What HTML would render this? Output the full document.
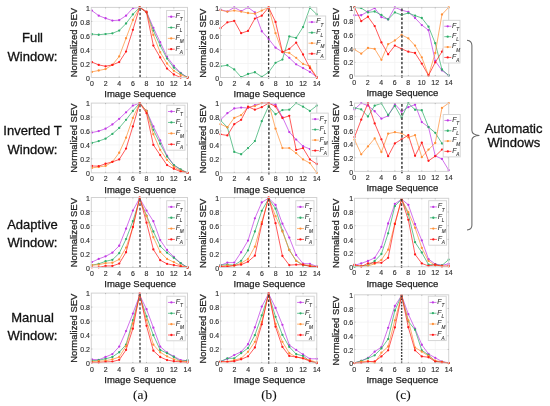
<!DOCTYPE html><html><head><meta charset="utf-8"><style>html,body{margin:0;padding:0;background:#fff;}svg{display:block;}text{font-family:"Liberation Sans",Arial,sans-serif;}</style></head><body>
<svg width="550" height="406" viewBox="0 0 550 406">
<rect width="550" height="406" fill="#fff"/>
<g>
<path d="M105.56 7.40V77.50M119.21 7.40V77.50M132.87 7.40V77.50M146.53 7.40V77.50M160.19 7.40V77.50M173.84 7.40V77.50M91.30 63.48H187.50M91.30 49.46H187.50M91.30 35.44H187.50M91.30 21.42H187.50" stroke="#f3f3f3" stroke-width="0.8" fill="none"/>
<g>
<polyline points="91.90,10.55 98.73,15.67 105.56,18.27 112.39,20.58 119.21,20.16 126.04,15.67 132.87,8.10 139.70,7.40 146.53,11.61 153.36,27.80 160.19,42.17 167.01,56.75 173.84,65.79 180.67,72.87 187.50,77.50" fill="none" stroke="#c03ae4" stroke-width="0.72" stroke-linejoin="round"/>
<g fill="#c03ae4"><circle cx="91.90" cy="10.55" r="1.15"/><circle cx="98.73" cy="15.67" r="1.15"/><circle cx="105.56" cy="18.27" r="1.15"/><circle cx="112.39" cy="20.58" r="1.15"/><circle cx="119.21" cy="20.16" r="1.15"/><circle cx="126.04" cy="15.67" r="1.15"/><circle cx="132.87" cy="8.10" r="1.15"/><circle cx="139.70" cy="7.40" r="1.15"/><circle cx="146.53" cy="11.61" r="1.15"/><circle cx="153.36" cy="27.80" r="1.15"/><circle cx="160.19" cy="42.17" r="1.15"/><circle cx="167.01" cy="56.75" r="1.15"/><circle cx="173.84" cy="65.79" r="1.15"/><circle cx="180.67" cy="72.87" r="1.15"/><circle cx="187.50" cy="77.50" r="1.15"/></g>
<polyline points="91.90,34.11 98.73,34.74 105.56,34.04 112.39,33.34 119.21,30.53 126.04,23.52 132.87,14.41 139.70,7.40 146.53,12.31 153.36,30.53 160.19,45.60 167.01,58.57 173.84,67.69 180.67,73.29 187.50,77.50" fill="none" stroke="#2fae6a" stroke-width="0.72" stroke-linejoin="round"/>
<g fill="#2fae6a"><circle cx="91.90" cy="34.11" r="1.15"/><circle cx="98.73" cy="34.74" r="1.15"/><circle cx="105.56" cy="34.04" r="1.15"/><circle cx="112.39" cy="33.34" r="1.15"/><circle cx="119.21" cy="30.53" r="1.15"/><circle cx="126.04" cy="23.52" r="1.15"/><circle cx="132.87" cy="14.41" r="1.15"/><circle cx="139.70" cy="7.40" r="1.15"/><circle cx="146.53" cy="12.31" r="1.15"/><circle cx="153.36" cy="30.53" r="1.15"/><circle cx="160.19" cy="45.60" r="1.15"/><circle cx="167.01" cy="58.57" r="1.15"/><circle cx="173.84" cy="67.69" r="1.15"/><circle cx="180.67" cy="73.29" r="1.15"/><circle cx="187.50" cy="77.50" r="1.15"/></g>
<polyline points="91.90,71.89 98.73,70.49 105.56,69.09 112.39,64.88 119.21,56.47 126.04,38.24 132.87,20.02 139.70,7.40 146.53,11.61 153.36,34.95 160.19,52.26 167.01,63.48 173.84,70.84 180.67,74.91 187.50,77.50" fill="none" stroke="#ff9038" stroke-width="0.72" stroke-linejoin="round"/>
<g fill="#ff9038"><circle cx="91.90" cy="71.89" r="1.15"/><circle cx="98.73" cy="70.49" r="1.15"/><circle cx="105.56" cy="69.09" r="1.15"/><circle cx="112.39" cy="64.88" r="1.15"/><circle cx="119.21" cy="56.47" r="1.15"/><circle cx="126.04" cy="38.24" r="1.15"/><circle cx="132.87" cy="20.02" r="1.15"/><circle cx="139.70" cy="7.40" r="1.15"/><circle cx="146.53" cy="11.61" r="1.15"/><circle cx="153.36" cy="34.95" r="1.15"/><circle cx="160.19" cy="52.26" r="1.15"/><circle cx="167.01" cy="63.48" r="1.15"/><circle cx="173.84" cy="70.84" r="1.15"/><circle cx="180.67" cy="74.91" r="1.15"/><circle cx="187.50" cy="77.50" r="1.15"/></g>
<polyline points="91.90,62.08 98.73,64.88 105.56,66.28 112.39,64.88 119.21,62.08 126.04,51.56 132.87,29.83 139.70,7.40 146.53,12.31 153.36,45.60 160.19,57.45 167.01,68.53 173.84,74.49 180.67,77.50 187.50,77.50" fill="none" stroke="#ff1a1a" stroke-width="0.72" stroke-linejoin="round"/>
<g fill="#ff1a1a"><circle cx="91.90" cy="62.08" r="1.15"/><circle cx="98.73" cy="64.88" r="1.15"/><circle cx="105.56" cy="66.28" r="1.15"/><circle cx="112.39" cy="64.88" r="1.15"/><circle cx="119.21" cy="62.08" r="1.15"/><circle cx="126.04" cy="51.56" r="1.15"/><circle cx="132.87" cy="29.83" r="1.15"/><circle cx="139.70" cy="7.40" r="1.15"/><circle cx="146.53" cy="12.31" r="1.15"/><circle cx="153.36" cy="45.60" r="1.15"/><circle cx="160.19" cy="57.45" r="1.15"/><circle cx="167.01" cy="68.53" r="1.15"/><circle cx="173.84" cy="74.49" r="1.15"/><circle cx="180.67" cy="77.50" r="1.15"/><circle cx="187.50" cy="77.50" r="1.15"/></g>
</g>
<line x1="140.10" y1="77.35" x2="140.10" y2="7.40" stroke="#5c5c5c" stroke-width="1.6" stroke-dasharray="2.65 1.78"/>
<rect x="91.30" y="7.40" width="96.20" height="70.10" fill="none" stroke="#d2d2d2" stroke-width="1"/>
<path d="M105.56 77.50v-1M105.56 7.40v1M119.21 77.50v-1M119.21 7.40v1M132.87 77.50v-1M132.87 7.40v1M146.53 77.50v-1M146.53 7.40v1M160.19 77.50v-1M160.19 7.40v1M173.84 77.50v-1M173.84 7.40v1M91.30 63.48h1M187.50 63.48h-1M91.30 49.46h1M187.50 49.46h-1M91.30 35.44h1M187.50 35.44h-1M91.30 21.42h1M187.50 21.42h-1" stroke="#aaaaaa" stroke-width="0.8" fill="none"/>
<g font-size="8.1" fill="#2c2c2c" stroke="#2c2c2c" stroke-width="0.15"><text transform="translate(91.90 86.10) scale(0.86 1)" text-anchor="middle">0</text><text transform="translate(105.56 86.10) scale(0.86 1)" text-anchor="middle">2</text><text transform="translate(119.21 86.10) scale(0.86 1)" text-anchor="middle">4</text><text transform="translate(132.87 86.10) scale(0.86 1)" text-anchor="middle">6</text><text transform="translate(146.53 86.10) scale(0.86 1)" text-anchor="middle">8</text><text transform="translate(160.19 86.10) scale(0.86 1)" text-anchor="middle">10</text><text transform="translate(173.84 86.10) scale(0.86 1)" text-anchor="middle">12</text><text transform="translate(187.50 86.10) scale(0.86 1)" text-anchor="middle">14</text><text transform="translate(90.00 80.60) scale(0.86 1)" text-anchor="end">0</text><text transform="translate(90.00 66.58) scale(0.86 1)" text-anchor="end">0.2</text><text transform="translate(90.00 52.56) scale(0.86 1)" text-anchor="end">0.4</text><text transform="translate(90.00 38.54) scale(0.86 1)" text-anchor="end">0.6</text><text transform="translate(90.00 24.52) scale(0.86 1)" text-anchor="end">0.8</text><text transform="translate(90.00 10.50) scale(0.86 1)" text-anchor="end">1</text></g>
<text transform="translate(140.20 97.40) scale(1.0 1)" text-anchor="middle" font-size="9.5" fill="#222222" stroke="#222222" stroke-width="0.25">Image Sequence</text>
<text transform="translate(76.50,42.65) rotate(-90)" text-anchor="middle" font-size="9.45" fill="#222222" stroke="#222222" stroke-width="0.25">Normalized SEV</text>
<rect x="166.60" y="10.50" width="18.00" height="44.50" fill="#fff" stroke="#d2d2d2" stroke-width="0.9"/>
<line x1="167.80" y1="16.73" x2="174.80" y2="16.73" stroke="#c03ae4" stroke-width="0.7"/>
<circle cx="171.20" cy="16.73" r="1.15" fill="#c03ae4"/>
<text x="175.60" y="18.13" font-size="6.9" font-style="italic" fill="#3a3a3a" stroke="#3a3a3a" stroke-width="0.12">F<tspan font-size="4.7" dx="-0.1" dy="3.3">T</tspan></text>
<line x1="167.80" y1="27.56" x2="174.80" y2="27.56" stroke="#2fae6a" stroke-width="0.7"/>
<circle cx="171.20" cy="27.56" r="1.15" fill="#2fae6a"/>
<text x="175.60" y="28.96" font-size="6.9" font-style="italic" fill="#3a3a3a" stroke="#3a3a3a" stroke-width="0.12">F<tspan font-size="4.7" dx="-0.1" dy="3.3">L</tspan></text>
<line x1="167.80" y1="38.38" x2="174.80" y2="38.38" stroke="#ff9038" stroke-width="0.7"/>
<circle cx="171.20" cy="38.38" r="1.15" fill="#ff9038"/>
<text x="175.60" y="39.78" font-size="6.9" font-style="italic" fill="#3a3a3a" stroke="#3a3a3a" stroke-width="0.12">F<tspan font-size="4.7" dx="-0.1" dy="3.3">M</tspan></text>
<line x1="167.80" y1="49.21" x2="174.80" y2="49.21" stroke="#ff1a1a" stroke-width="0.7"/>
<circle cx="171.20" cy="49.21" r="1.15" fill="#ff1a1a"/>
<text x="175.60" y="50.61" font-size="6.9" font-style="italic" fill="#3a3a3a" stroke="#3a3a3a" stroke-width="0.12">F<tspan font-size="4.7" dx="-0.1" dy="3.3">A</tspan></text>
<path d="M234.26 7.40V77.50M248.01 7.40V77.50M261.77 7.40V77.50M275.53 7.40V77.50M289.29 7.40V77.50M303.04 7.40V77.50M220.50 63.48H316.80M220.50 49.46H316.80M220.50 35.44H316.80M220.50 21.42H316.80" stroke="#f3f3f3" stroke-width="0.8" fill="none"/>
<g>
<polyline points="220.50,9.64 227.38,11.54 234.26,7.40 241.14,11.19 248.01,7.40 254.89,12.45 261.77,31.23 268.65,38.95 275.53,47.71 282.41,51.98 289.29,57.87 296.16,64.32 303.04,68.04 309.92,71.89 316.80,77.08" fill="none" stroke="#c03ae4" stroke-width="0.72" stroke-linejoin="round"/>
<g fill="#c03ae4"><circle cx="220.50" cy="9.64" r="1.15"/><circle cx="227.38" cy="11.54" r="1.15"/><circle cx="234.26" cy="7.40" r="1.15"/><circle cx="241.14" cy="11.19" r="1.15"/><circle cx="248.01" cy="7.40" r="1.15"/><circle cx="254.89" cy="12.45" r="1.15"/><circle cx="261.77" cy="31.23" r="1.15"/><circle cx="268.65" cy="38.95" r="1.15"/><circle cx="275.53" cy="47.71" r="1.15"/><circle cx="282.41" cy="51.98" r="1.15"/><circle cx="289.29" cy="57.87" r="1.15"/><circle cx="296.16" cy="64.32" r="1.15"/><circle cx="303.04" cy="68.04" r="1.15"/><circle cx="309.92" cy="71.89" r="1.15"/><circle cx="316.80" cy="77.08" r="1.15"/></g>
<polyline points="220.50,66.28 227.38,65.23 234.26,69.44 241.14,77.15 248.01,74.00 254.89,72.24 261.77,76.80 268.65,72.24 275.53,62.78 282.41,59.55 289.29,36.42 296.16,37.89 303.04,27.03 309.92,7.75 316.80,14.41" fill="none" stroke="#2fae6a" stroke-width="0.72" stroke-linejoin="round"/>
<g fill="#2fae6a"><circle cx="220.50" cy="66.28" r="1.15"/><circle cx="227.38" cy="65.23" r="1.15"/><circle cx="234.26" cy="69.44" r="1.15"/><circle cx="241.14" cy="77.15" r="1.15"/><circle cx="248.01" cy="74.00" r="1.15"/><circle cx="254.89" cy="72.24" r="1.15"/><circle cx="261.77" cy="76.80" r="1.15"/><circle cx="268.65" cy="72.24" r="1.15"/><circle cx="275.53" cy="62.78" r="1.15"/><circle cx="282.41" cy="59.55" r="1.15"/><circle cx="289.29" cy="36.42" r="1.15"/><circle cx="296.16" cy="37.89" r="1.15"/><circle cx="303.04" cy="27.03" r="1.15"/><circle cx="309.92" cy="7.75" r="1.15"/><circle cx="316.80" cy="14.41" r="1.15"/></g>
<polyline points="220.50,10.20 227.38,11.61 234.26,10.55 241.14,11.61 248.01,13.01 254.89,13.71 261.77,10.55 268.65,7.40 275.53,33.20 282.41,51.98 289.29,52.97 296.16,57.87 303.04,63.90 309.92,66.28 316.80,77.50" fill="none" stroke="#ff9038" stroke-width="0.72" stroke-linejoin="round"/>
<g fill="#ff9038"><circle cx="220.50" cy="10.20" r="1.15"/><circle cx="227.38" cy="11.61" r="1.15"/><circle cx="234.26" cy="10.55" r="1.15"/><circle cx="241.14" cy="11.61" r="1.15"/><circle cx="248.01" cy="13.01" r="1.15"/><circle cx="254.89" cy="13.71" r="1.15"/><circle cx="261.77" cy="10.55" r="1.15"/><circle cx="268.65" cy="7.40" r="1.15"/><circle cx="275.53" cy="33.20" r="1.15"/><circle cx="282.41" cy="51.98" r="1.15"/><circle cx="289.29" cy="52.97" r="1.15"/><circle cx="296.16" cy="57.87" r="1.15"/><circle cx="303.04" cy="63.90" r="1.15"/><circle cx="309.92" cy="66.28" r="1.15"/><circle cx="316.80" cy="77.50" r="1.15"/></g>
<polyline points="220.50,28.15 227.38,22.33 234.26,20.93 241.14,33.20 248.01,30.95 254.89,18.62 261.77,15.67 268.65,7.40 275.53,21.91 282.41,51.98 289.29,48.90 296.16,42.66 303.04,54.51 309.92,68.04 316.80,77.50" fill="none" stroke="#ff1a1a" stroke-width="0.72" stroke-linejoin="round"/>
<g fill="#ff1a1a"><circle cx="220.50" cy="28.15" r="1.15"/><circle cx="227.38" cy="22.33" r="1.15"/><circle cx="234.26" cy="20.93" r="1.15"/><circle cx="241.14" cy="33.20" r="1.15"/><circle cx="248.01" cy="30.95" r="1.15"/><circle cx="254.89" cy="18.62" r="1.15"/><circle cx="261.77" cy="15.67" r="1.15"/><circle cx="268.65" cy="7.40" r="1.15"/><circle cx="275.53" cy="21.91" r="1.15"/><circle cx="282.41" cy="51.98" r="1.15"/><circle cx="289.29" cy="48.90" r="1.15"/><circle cx="296.16" cy="42.66" r="1.15"/><circle cx="303.04" cy="54.51" r="1.15"/><circle cx="309.92" cy="68.04" r="1.15"/><circle cx="316.80" cy="77.50" r="1.15"/></g>
</g>
<line x1="268.60" y1="78.40" x2="268.60" y2="7.40" stroke="#3a3a3a" stroke-width="1.3" stroke-dasharray="2.65 1.78"/>
<rect x="220.50" y="7.40" width="96.30" height="70.10" fill="none" stroke="#d2d2d2" stroke-width="1"/>
<path d="M234.26 77.50v-1M234.26 7.40v1M248.01 77.50v-1M248.01 7.40v1M261.77 77.50v-1M261.77 7.40v1M275.53 77.50v-1M275.53 7.40v1M289.29 77.50v-1M289.29 7.40v1M303.04 77.50v-1M303.04 7.40v1M220.50 63.48h1M316.80 63.48h-1M220.50 49.46h1M316.80 49.46h-1M220.50 35.44h1M316.80 35.44h-1M220.50 21.42h1M316.80 21.42h-1" stroke="#aaaaaa" stroke-width="0.8" fill="none"/>
<g font-size="8.1" fill="#2c2c2c" stroke="#2c2c2c" stroke-width="0.15"><text transform="translate(220.60 86.10) scale(0.86 1)" text-anchor="middle">0</text><text transform="translate(234.34 86.10) scale(0.86 1)" text-anchor="middle">2</text><text transform="translate(248.09 86.10) scale(0.86 1)" text-anchor="middle">4</text><text transform="translate(261.83 86.10) scale(0.86 1)" text-anchor="middle">6</text><text transform="translate(275.57 86.10) scale(0.86 1)" text-anchor="middle">8</text><text transform="translate(289.31 86.10) scale(0.86 1)" text-anchor="middle">10</text><text transform="translate(303.06 86.10) scale(0.86 1)" text-anchor="middle">12</text><text transform="translate(316.80 86.10) scale(0.86 1)" text-anchor="middle">14</text><text transform="translate(219.20 80.60) scale(0.86 1)" text-anchor="end">0</text><text transform="translate(219.20 66.58) scale(0.86 1)" text-anchor="end">0.2</text><text transform="translate(219.20 52.56) scale(0.86 1)" text-anchor="end">0.4</text><text transform="translate(219.20 38.54) scale(0.86 1)" text-anchor="end">0.6</text><text transform="translate(219.20 24.52) scale(0.86 1)" text-anchor="end">0.8</text><text transform="translate(219.20 10.50) scale(0.86 1)" text-anchor="end">1</text></g>
<text transform="translate(269.45 97.40) scale(1.0 1)" text-anchor="middle" font-size="9.5" fill="#222222" stroke="#222222" stroke-width="0.25">Image Sequence</text>
<text transform="translate(205.80,43.25) rotate(-90)" text-anchor="middle" font-size="9.45" fill="#222222" stroke="#222222" stroke-width="0.25">Normalized SEV</text>
<rect x="307.30" y="16.00" width="18.40" height="43.40" fill="#fff" stroke="#d2d2d2" stroke-width="0.9"/>
<line x1="308.50" y1="22.08" x2="315.50" y2="22.08" stroke="#c03ae4" stroke-width="0.7"/>
<circle cx="311.90" cy="22.08" r="1.15" fill="#c03ae4"/>
<text x="316.30" y="23.48" font-size="6.9" font-style="italic" fill="#3a3a3a" stroke="#3a3a3a" stroke-width="0.12">F<tspan font-size="4.7" dx="-0.1" dy="3.3">T</tspan></text>
<line x1="308.50" y1="32.64" x2="315.50" y2="32.64" stroke="#2fae6a" stroke-width="0.7"/>
<circle cx="311.90" cy="32.64" r="1.15" fill="#2fae6a"/>
<text x="316.30" y="34.04" font-size="6.9" font-style="italic" fill="#3a3a3a" stroke="#3a3a3a" stroke-width="0.12">F<tspan font-size="4.7" dx="-0.1" dy="3.3">L</tspan></text>
<line x1="308.50" y1="43.19" x2="315.50" y2="43.19" stroke="#ff9038" stroke-width="0.7"/>
<circle cx="311.90" cy="43.19" r="1.15" fill="#ff9038"/>
<text x="316.30" y="44.59" font-size="6.9" font-style="italic" fill="#3a3a3a" stroke="#3a3a3a" stroke-width="0.12">F<tspan font-size="4.7" dx="-0.1" dy="3.3">M</tspan></text>
<line x1="308.50" y1="53.75" x2="315.50" y2="53.75" stroke="#ff1a1a" stroke-width="0.7"/>
<circle cx="311.90" cy="53.75" r="1.15" fill="#ff1a1a"/>
<text x="316.30" y="55.15" font-size="6.9" font-style="italic" fill="#3a3a3a" stroke="#3a3a3a" stroke-width="0.12">F<tspan font-size="4.7" dx="-0.1" dy="3.3">A</tspan></text>
<path d="M367.96 7.40V76.10M381.41 7.40V76.10M394.87 7.40V76.10M408.33 7.40V76.10M421.79 7.40V76.10M435.24 7.40V76.10M354.50 62.36H448.70M354.50 48.62H448.70M354.50 34.88H448.70M354.50 21.14H448.70" stroke="#f3f3f3" stroke-width="0.8" fill="none"/>
<g>
<polyline points="354.50,15.23 361.23,15.23 367.96,11.52 374.69,8.09 381.41,17.16 388.14,19.42 394.87,7.40 401.60,10.15 408.33,11.93 415.06,17.98 421.79,25.06 428.51,30.21 435.24,60.99 441.97,70.47 448.70,75.48" fill="none" stroke="#c03ae4" stroke-width="0.72" stroke-linejoin="round"/>
<g fill="#c03ae4"><circle cx="354.50" cy="15.23" r="1.15"/><circle cx="361.23" cy="15.23" r="1.15"/><circle cx="367.96" cy="11.52" r="1.15"/><circle cx="374.69" cy="8.09" r="1.15"/><circle cx="381.41" cy="17.16" r="1.15"/><circle cx="388.14" cy="19.42" r="1.15"/><circle cx="394.87" cy="7.40" r="1.15"/><circle cx="401.60" cy="10.15" r="1.15"/><circle cx="408.33" cy="11.93" r="1.15"/><circle cx="415.06" cy="17.98" r="1.15"/><circle cx="421.79" cy="25.06" r="1.15"/><circle cx="428.51" cy="30.21" r="1.15"/><circle cx="435.24" cy="60.99" r="1.15"/><circle cx="441.97" cy="70.47" r="1.15"/><circle cx="448.70" cy="75.48" r="1.15"/></g>
<polyline points="354.50,7.40 361.23,8.09 367.96,12.42 374.69,11.52 381.41,14.96 388.14,19.42 394.87,12.42 401.60,14.96 408.33,13.03 415.06,15.64 421.79,17.98 428.51,26.64 435.24,43.26 441.97,69.50 448.70,75.48" fill="none" stroke="#2fae6a" stroke-width="0.72" stroke-linejoin="round"/>
<g fill="#2fae6a"><circle cx="354.50" cy="7.40" r="1.15"/><circle cx="361.23" cy="8.09" r="1.15"/><circle cx="367.96" cy="12.42" r="1.15"/><circle cx="374.69" cy="11.52" r="1.15"/><circle cx="381.41" cy="14.96" r="1.15"/><circle cx="388.14" cy="19.42" r="1.15"/><circle cx="394.87" cy="12.42" r="1.15"/><circle cx="401.60" cy="14.96" r="1.15"/><circle cx="408.33" cy="13.03" r="1.15"/><circle cx="415.06" cy="15.64" r="1.15"/><circle cx="421.79" cy="17.98" r="1.15"/><circle cx="428.51" cy="26.64" r="1.15"/><circle cx="435.24" cy="43.26" r="1.15"/><circle cx="441.97" cy="69.50" r="1.15"/><circle cx="448.70" cy="75.48" r="1.15"/></g>
<polyline points="354.50,49.51 361.23,53.64 367.96,48.00 374.69,48.89 381.41,59.82 388.14,44.22 394.87,40.51 401.60,34.88 408.33,38.31 415.06,45.60 421.79,57.34 428.51,75.48 435.24,53.02 441.97,14.48 448.70,7.40" fill="none" stroke="#ff9038" stroke-width="0.72" stroke-linejoin="round"/>
<g fill="#ff9038"><circle cx="354.50" cy="49.51" r="1.15"/><circle cx="361.23" cy="53.64" r="1.15"/><circle cx="367.96" cy="48.00" r="1.15"/><circle cx="374.69" cy="48.89" r="1.15"/><circle cx="381.41" cy="59.82" r="1.15"/><circle cx="388.14" cy="44.22" r="1.15"/><circle cx="394.87" cy="40.51" r="1.15"/><circle cx="401.60" cy="34.88" r="1.15"/><circle cx="408.33" cy="38.31" r="1.15"/><circle cx="415.06" cy="45.60" r="1.15"/><circle cx="421.79" cy="57.34" r="1.15"/><circle cx="428.51" cy="75.48" r="1.15"/><circle cx="435.24" cy="53.02" r="1.15"/><circle cx="441.97" cy="14.48" r="1.15"/><circle cx="448.70" cy="7.40" r="1.15"/></g>
<polyline points="354.50,7.40 361.23,21.14 367.96,16.74 374.69,26.09 381.41,42.44 388.14,54.25 394.87,45.60 401.60,48.89 408.33,51.71 415.06,53.02 421.79,63.53 428.51,75.48 435.24,62.36 441.97,51.71 448.70,34.88" fill="none" stroke="#ff1a1a" stroke-width="0.72" stroke-linejoin="round"/>
<g fill="#ff1a1a"><circle cx="354.50" cy="7.40" r="1.15"/><circle cx="361.23" cy="21.14" r="1.15"/><circle cx="367.96" cy="16.74" r="1.15"/><circle cx="374.69" cy="26.09" r="1.15"/><circle cx="381.41" cy="42.44" r="1.15"/><circle cx="388.14" cy="54.25" r="1.15"/><circle cx="394.87" cy="45.60" r="1.15"/><circle cx="401.60" cy="48.89" r="1.15"/><circle cx="408.33" cy="51.71" r="1.15"/><circle cx="415.06" cy="53.02" r="1.15"/><circle cx="421.79" cy="63.53" r="1.15"/><circle cx="428.51" cy="75.48" r="1.15"/><circle cx="435.24" cy="62.36" r="1.15"/><circle cx="441.97" cy="51.71" r="1.15"/><circle cx="448.70" cy="34.88" r="1.15"/></g>
</g>
<line x1="401.90" y1="77.65" x2="401.90" y2="7.40" stroke="#5c5c5c" stroke-width="1.8" stroke-dasharray="2.65 1.78"/>
<rect x="354.50" y="7.40" width="94.20" height="68.70" fill="none" stroke="#d2d2d2" stroke-width="1"/>
<path d="M367.96 76.10v-1M367.96 7.40v1M381.41 76.10v-1M381.41 7.40v1M394.87 76.10v-1M394.87 7.40v1M408.33 76.10v-1M408.33 7.40v1M421.79 76.10v-1M421.79 7.40v1M435.24 76.10v-1M435.24 7.40v1M354.50 62.36h1M448.70 62.36h-1M354.50 48.62h1M448.70 48.62h-1M354.50 34.88h1M448.70 34.88h-1M354.50 21.14h1M448.70 21.14h-1" stroke="#aaaaaa" stroke-width="0.8" fill="none"/>
<g font-size="8.1" fill="#2c2c2c" stroke="#2c2c2c" stroke-width="0.15"><text transform="translate(354.30 84.70) scale(0.86 1)" text-anchor="middle">0</text><text transform="translate(367.79 84.70) scale(0.86 1)" text-anchor="middle">2</text><text transform="translate(381.27 84.70) scale(0.86 1)" text-anchor="middle">4</text><text transform="translate(394.76 84.70) scale(0.86 1)" text-anchor="middle">6</text><text transform="translate(408.24 84.70) scale(0.86 1)" text-anchor="middle">8</text><text transform="translate(421.73 84.70) scale(0.86 1)" text-anchor="middle">10</text><text transform="translate(435.21 84.70) scale(0.86 1)" text-anchor="middle">12</text><text transform="translate(448.70 84.70) scale(0.86 1)" text-anchor="middle">14</text><text transform="translate(353.20 79.20) scale(0.86 1)" text-anchor="end">0</text><text transform="translate(353.20 65.46) scale(0.86 1)" text-anchor="end">0.2</text><text transform="translate(353.20 51.72) scale(0.86 1)" text-anchor="end">0.4</text><text transform="translate(353.20 37.98) scale(0.86 1)" text-anchor="end">0.6</text><text transform="translate(353.20 24.24) scale(0.86 1)" text-anchor="end">0.8</text><text transform="translate(353.20 10.50) scale(0.86 1)" text-anchor="end">1</text></g>
<text transform="translate(402.40 96.00) scale(1.0 1)" text-anchor="middle" font-size="9.5" fill="#222222" stroke="#222222" stroke-width="0.25">Image Sequence</text>
<text transform="translate(339.40,42.65) rotate(-90)" text-anchor="middle" font-size="9.45" fill="#222222" stroke="#222222" stroke-width="0.25">Normalized SEV</text>
<rect x="443.10" y="20.30" width="16.90" height="42.70" fill="#fff" stroke="#d2d2d2" stroke-width="0.9"/>
<line x1="444.30" y1="26.28" x2="451.30" y2="26.28" stroke="#c03ae4" stroke-width="0.7"/>
<circle cx="447.70" cy="26.28" r="1.15" fill="#c03ae4"/>
<text x="452.10" y="27.68" font-size="6.9" font-style="italic" fill="#3a3a3a" stroke="#3a3a3a" stroke-width="0.12">F<tspan font-size="4.7" dx="-0.1" dy="3.3">T</tspan></text>
<line x1="444.30" y1="36.67" x2="451.30" y2="36.67" stroke="#2fae6a" stroke-width="0.7"/>
<circle cx="447.70" cy="36.67" r="1.15" fill="#2fae6a"/>
<text x="452.10" y="38.07" font-size="6.9" font-style="italic" fill="#3a3a3a" stroke="#3a3a3a" stroke-width="0.12">F<tspan font-size="4.7" dx="-0.1" dy="3.3">L</tspan></text>
<line x1="444.30" y1="47.06" x2="451.30" y2="47.06" stroke="#ff9038" stroke-width="0.7"/>
<circle cx="447.70" cy="47.06" r="1.15" fill="#ff9038"/>
<text x="452.10" y="48.46" font-size="6.9" font-style="italic" fill="#3a3a3a" stroke="#3a3a3a" stroke-width="0.12">F<tspan font-size="4.7" dx="-0.1" dy="3.3">M</tspan></text>
<line x1="444.30" y1="57.44" x2="451.30" y2="57.44" stroke="#ff1a1a" stroke-width="0.7"/>
<circle cx="447.70" cy="57.44" r="1.15" fill="#ff1a1a"/>
<text x="452.10" y="58.84" font-size="6.9" font-style="italic" fill="#3a3a3a" stroke="#3a3a3a" stroke-width="0.12">F<tspan font-size="4.7" dx="-0.1" dy="3.3">A</tspan></text>
<path d="M105.56 103.10V172.80M119.21 103.10V172.80M132.87 103.10V172.80M146.53 103.10V172.80M160.19 103.10V172.80M173.84 103.10V172.80M91.30 158.86H187.50M91.30 144.92H187.50M91.30 130.98H187.50M91.30 117.04H187.50" stroke="#f3f3f3" stroke-width="0.8" fill="none"/>
<g>
<polyline points="91.90,132.58 98.73,131.12 105.56,128.68 112.39,124.43 119.21,118.78 126.04,112.30 132.87,105.61 139.70,103.10 146.53,110.98 153.36,126.38 160.19,140.46 167.01,155.58 173.84,165.06 180.67,169.80 187.50,172.80" fill="none" stroke="#c03ae4" stroke-width="0.72" stroke-linejoin="round"/>
<g fill="#c03ae4"><circle cx="91.90" cy="132.58" r="1.15"/><circle cx="98.73" cy="131.12" r="1.15"/><circle cx="105.56" cy="128.68" r="1.15"/><circle cx="112.39" cy="124.43" r="1.15"/><circle cx="119.21" cy="118.78" r="1.15"/><circle cx="126.04" cy="112.30" r="1.15"/><circle cx="132.87" cy="105.61" r="1.15"/><circle cx="139.70" cy="103.10" r="1.15"/><circle cx="146.53" cy="110.98" r="1.15"/><circle cx="153.36" cy="126.38" r="1.15"/><circle cx="160.19" cy="140.46" r="1.15"/><circle cx="167.01" cy="155.58" r="1.15"/><circle cx="173.84" cy="165.06" r="1.15"/><circle cx="180.67" cy="169.80" r="1.15"/><circle cx="187.50" cy="172.80" r="1.15"/></g>
<polyline points="91.90,142.97 98.73,141.09 105.56,138.65 112.39,133.91 119.21,127.91 126.04,119.83 132.87,110.98 139.70,103.10 146.53,110.98 153.36,129.80 160.19,143.67 167.01,156.56 173.84,165.06 180.67,169.31 187.50,172.80" fill="none" stroke="#2fae6a" stroke-width="0.72" stroke-linejoin="round"/>
<g fill="#2fae6a"><circle cx="91.90" cy="142.97" r="1.15"/><circle cx="98.73" cy="141.09" r="1.15"/><circle cx="105.56" cy="138.65" r="1.15"/><circle cx="112.39" cy="133.91" r="1.15"/><circle cx="119.21" cy="127.91" r="1.15"/><circle cx="126.04" cy="119.83" r="1.15"/><circle cx="132.87" cy="110.98" r="1.15"/><circle cx="139.70" cy="103.10" r="1.15"/><circle cx="146.53" cy="110.98" r="1.15"/><circle cx="153.36" cy="129.80" r="1.15"/><circle cx="160.19" cy="143.67" r="1.15"/><circle cx="167.01" cy="156.56" r="1.15"/><circle cx="173.84" cy="165.06" r="1.15"/><circle cx="180.67" cy="169.31" r="1.15"/><circle cx="187.50" cy="172.80" r="1.15"/></g>
<polyline points="91.90,167.92 98.73,166.95 105.56,165.97 112.39,161.86 119.21,152.73 126.04,137.67 132.87,117.88 139.70,103.10 146.53,110.98 153.36,134.26 160.19,149.94 167.01,159.91 173.84,166.95 180.67,170.71 187.50,172.80" fill="none" stroke="#ff9038" stroke-width="0.72" stroke-linejoin="round"/>
<g fill="#ff9038"><circle cx="91.90" cy="167.92" r="1.15"/><circle cx="98.73" cy="166.95" r="1.15"/><circle cx="105.56" cy="165.97" r="1.15"/><circle cx="112.39" cy="161.86" r="1.15"/><circle cx="119.21" cy="152.73" r="1.15"/><circle cx="126.04" cy="137.67" r="1.15"/><circle cx="132.87" cy="117.88" r="1.15"/><circle cx="139.70" cy="103.10" r="1.15"/><circle cx="146.53" cy="110.98" r="1.15"/><circle cx="153.36" cy="134.26" r="1.15"/><circle cx="160.19" cy="149.94" r="1.15"/><circle cx="167.01" cy="159.91" r="1.15"/><circle cx="173.84" cy="166.95" r="1.15"/><circle cx="180.67" cy="170.71" r="1.15"/><circle cx="187.50" cy="172.80" r="1.15"/></g>
<polyline points="91.90,165.97 98.73,166.18 105.56,163.74 112.39,161.86 119.21,159.42 126.04,148.61 132.87,126.38 139.70,103.10 146.53,113.21 153.36,144.92 160.19,155.10 167.01,165.06 173.84,168.76 180.67,171.62 187.50,172.80" fill="none" stroke="#ff1a1a" stroke-width="0.72" stroke-linejoin="round"/>
<g fill="#ff1a1a"><circle cx="91.90" cy="165.97" r="1.15"/><circle cx="98.73" cy="166.18" r="1.15"/><circle cx="105.56" cy="163.74" r="1.15"/><circle cx="112.39" cy="161.86" r="1.15"/><circle cx="119.21" cy="159.42" r="1.15"/><circle cx="126.04" cy="148.61" r="1.15"/><circle cx="132.87" cy="126.38" r="1.15"/><circle cx="139.70" cy="103.10" r="1.15"/><circle cx="146.53" cy="113.21" r="1.15"/><circle cx="153.36" cy="144.92" r="1.15"/><circle cx="160.19" cy="155.10" r="1.15"/><circle cx="167.01" cy="165.06" r="1.15"/><circle cx="173.84" cy="168.76" r="1.15"/><circle cx="180.67" cy="171.62" r="1.15"/><circle cx="187.50" cy="172.80" r="1.15"/></g>
</g>
<line x1="140.00" y1="173.70" x2="140.00" y2="103.10" stroke="#5c5c5c" stroke-width="1.6" stroke-dasharray="2.65 1.78"/>
<rect x="91.30" y="103.10" width="96.20" height="69.70" fill="none" stroke="#d2d2d2" stroke-width="1"/>
<path d="M105.56 172.80v-1M105.56 103.10v1M119.21 172.80v-1M119.21 103.10v1M132.87 172.80v-1M132.87 103.10v1M146.53 172.80v-1M146.53 103.10v1M160.19 172.80v-1M160.19 103.10v1M173.84 172.80v-1M173.84 103.10v1M91.30 158.86h1M187.50 158.86h-1M91.30 144.92h1M187.50 144.92h-1M91.30 130.98h1M187.50 130.98h-1M91.30 117.04h1M187.50 117.04h-1" stroke="#aaaaaa" stroke-width="0.8" fill="none"/>
<g font-size="8.1" fill="#2c2c2c" stroke="#2c2c2c" stroke-width="0.15"><text transform="translate(91.90 181.40) scale(0.86 1)" text-anchor="middle">0</text><text transform="translate(105.56 181.40) scale(0.86 1)" text-anchor="middle">2</text><text transform="translate(119.21 181.40) scale(0.86 1)" text-anchor="middle">4</text><text transform="translate(132.87 181.40) scale(0.86 1)" text-anchor="middle">6</text><text transform="translate(146.53 181.40) scale(0.86 1)" text-anchor="middle">8</text><text transform="translate(160.19 181.40) scale(0.86 1)" text-anchor="middle">10</text><text transform="translate(173.84 181.40) scale(0.86 1)" text-anchor="middle">12</text><text transform="translate(187.50 181.40) scale(0.86 1)" text-anchor="middle">14</text><text transform="translate(90.00 175.90) scale(0.86 1)" text-anchor="end">0</text><text transform="translate(90.00 161.96) scale(0.86 1)" text-anchor="end">0.2</text><text transform="translate(90.00 148.02) scale(0.86 1)" text-anchor="end">0.4</text><text transform="translate(90.00 134.08) scale(0.86 1)" text-anchor="end">0.6</text><text transform="translate(90.00 120.14) scale(0.86 1)" text-anchor="end">0.8</text><text transform="translate(90.00 106.20) scale(0.86 1)" text-anchor="end">1</text></g>
<text transform="translate(140.20 192.70) scale(1.0 1)" text-anchor="middle" font-size="9.5" fill="#222222" stroke="#222222" stroke-width="0.25">Image Sequence</text>
<text transform="translate(76.50,138.15) rotate(-90)" text-anchor="middle" font-size="9.45" fill="#222222" stroke="#222222" stroke-width="0.25">Normalized SEV</text>
<rect x="166.80" y="105.20" width="18.20" height="45.00" fill="#fff" stroke="#d2d2d2" stroke-width="0.9"/>
<line x1="168.00" y1="111.50" x2="175.00" y2="111.50" stroke="#c03ae4" stroke-width="0.7"/>
<circle cx="171.40" cy="111.50" r="1.15" fill="#c03ae4"/>
<text x="175.80" y="112.90" font-size="6.9" font-style="italic" fill="#3a3a3a" stroke="#3a3a3a" stroke-width="0.12">F<tspan font-size="4.7" dx="-0.1" dy="3.3">T</tspan></text>
<line x1="168.00" y1="122.45" x2="175.00" y2="122.45" stroke="#2fae6a" stroke-width="0.7"/>
<circle cx="171.40" cy="122.45" r="1.15" fill="#2fae6a"/>
<text x="175.80" y="123.85" font-size="6.9" font-style="italic" fill="#3a3a3a" stroke="#3a3a3a" stroke-width="0.12">F<tspan font-size="4.7" dx="-0.1" dy="3.3">L</tspan></text>
<line x1="168.00" y1="133.40" x2="175.00" y2="133.40" stroke="#ff9038" stroke-width="0.7"/>
<circle cx="171.40" cy="133.40" r="1.15" fill="#ff9038"/>
<text x="175.80" y="134.80" font-size="6.9" font-style="italic" fill="#3a3a3a" stroke="#3a3a3a" stroke-width="0.12">F<tspan font-size="4.7" dx="-0.1" dy="3.3">M</tspan></text>
<line x1="168.00" y1="144.35" x2="175.00" y2="144.35" stroke="#ff1a1a" stroke-width="0.7"/>
<circle cx="171.40" cy="144.35" r="1.15" fill="#ff1a1a"/>
<text x="175.80" y="145.75" font-size="6.9" font-style="italic" fill="#3a3a3a" stroke="#3a3a3a" stroke-width="0.12">F<tspan font-size="4.7" dx="-0.1" dy="3.3">A</tspan></text>
<path d="M234.26 103.10V172.80M248.01 103.10V172.80M261.77 103.10V172.80M275.53 103.10V172.80M289.29 103.10V172.80M303.04 103.10V172.80M220.50 158.86H316.80M220.50 144.92H316.80M220.50 130.98H316.80M220.50 117.04H316.80" stroke="#f3f3f3" stroke-width="0.8" fill="none"/>
<g>
<polyline points="220.50,119.83 227.38,113.21 234.26,108.47 241.14,107.56 248.01,107.98 254.89,105.19 261.77,103.10 268.65,103.10 275.53,104.49 282.41,117.04 289.29,132.03 296.16,139.55 303.04,146.24 309.92,149.03 316.80,151.89" fill="none" stroke="#c03ae4" stroke-width="0.72" stroke-linejoin="round"/>
<g fill="#c03ae4"><circle cx="220.50" cy="119.83" r="1.15"/><circle cx="227.38" cy="113.21" r="1.15"/><circle cx="234.26" cy="108.47" r="1.15"/><circle cx="241.14" cy="107.56" r="1.15"/><circle cx="248.01" cy="107.98" r="1.15"/><circle cx="254.89" cy="105.19" r="1.15"/><circle cx="261.77" cy="103.10" r="1.15"/><circle cx="268.65" cy="103.10" r="1.15"/><circle cx="275.53" cy="104.49" r="1.15"/><circle cx="282.41" cy="117.04" r="1.15"/><circle cx="289.29" cy="132.03" r="1.15"/><circle cx="296.16" cy="139.55" r="1.15"/><circle cx="303.04" cy="146.24" r="1.15"/><circle cx="309.92" cy="149.03" r="1.15"/><circle cx="316.80" cy="151.89" r="1.15"/></g>
<polyline points="220.50,120.32 227.38,127.29 234.26,151.89 241.14,154.26 248.01,148.06 254.89,141.09 261.77,121.22 268.65,106.24 275.53,114.25 282.41,110.07 289.29,109.72 296.16,103.10 303.04,106.65 309.92,110.98 316.80,105.61" fill="none" stroke="#2fae6a" stroke-width="0.72" stroke-linejoin="round"/>
<g fill="#2fae6a"><circle cx="220.50" cy="120.32" r="1.15"/><circle cx="227.38" cy="127.29" r="1.15"/><circle cx="234.26" cy="151.89" r="1.15"/><circle cx="241.14" cy="154.26" r="1.15"/><circle cx="248.01" cy="148.06" r="1.15"/><circle cx="254.89" cy="141.09" r="1.15"/><circle cx="261.77" cy="121.22" r="1.15"/><circle cx="268.65" cy="106.24" r="1.15"/><circle cx="275.53" cy="114.25" r="1.15"/><circle cx="282.41" cy="110.07" r="1.15"/><circle cx="289.29" cy="109.72" r="1.15"/><circle cx="296.16" cy="103.10" r="1.15"/><circle cx="303.04" cy="106.65" r="1.15"/><circle cx="309.92" cy="110.98" r="1.15"/><circle cx="316.80" cy="105.61" r="1.15"/></g>
<polyline points="220.50,124.15 227.38,127.29 234.26,117.88 241.14,115.09 248.01,107.14 254.89,106.03 261.77,103.10 268.65,103.10 275.53,128.68 282.41,148.06 289.29,148.06 296.16,153.14 303.04,159.42 309.92,163.11 316.80,172.80" fill="none" stroke="#ff9038" stroke-width="0.72" stroke-linejoin="round"/>
<g fill="#ff9038"><circle cx="220.50" cy="124.15" r="1.15"/><circle cx="227.38" cy="127.29" r="1.15"/><circle cx="234.26" cy="117.88" r="1.15"/><circle cx="241.14" cy="115.09" r="1.15"/><circle cx="248.01" cy="107.14" r="1.15"/><circle cx="254.89" cy="106.03" r="1.15"/><circle cx="261.77" cy="103.10" r="1.15"/><circle cx="268.65" cy="103.10" r="1.15"/><circle cx="275.53" cy="128.68" r="1.15"/><circle cx="282.41" cy="148.06" r="1.15"/><circle cx="289.29" cy="148.06" r="1.15"/><circle cx="296.16" cy="153.14" r="1.15"/><circle cx="303.04" cy="159.42" r="1.15"/><circle cx="309.92" cy="163.11" r="1.15"/><circle cx="316.80" cy="172.80" r="1.15"/></g>
<polyline points="220.50,134.33 227.38,135.44 234.26,124.15 241.14,119.83 248.01,106.65 254.89,109.72 261.77,107.14 268.65,103.10 275.53,106.45 282.41,118.09 289.29,115.79 296.16,149.94 303.04,148.06 309.92,159.42 316.80,164.02" fill="none" stroke="#ff1a1a" stroke-width="0.72" stroke-linejoin="round"/>
<g fill="#ff1a1a"><circle cx="220.50" cy="134.33" r="1.15"/><circle cx="227.38" cy="135.44" r="1.15"/><circle cx="234.26" cy="124.15" r="1.15"/><circle cx="241.14" cy="119.83" r="1.15"/><circle cx="248.01" cy="106.65" r="1.15"/><circle cx="254.89" cy="109.72" r="1.15"/><circle cx="261.77" cy="107.14" r="1.15"/><circle cx="268.65" cy="103.10" r="1.15"/><circle cx="275.53" cy="106.45" r="1.15"/><circle cx="282.41" cy="118.09" r="1.15"/><circle cx="289.29" cy="115.79" r="1.15"/><circle cx="296.16" cy="149.94" r="1.15"/><circle cx="303.04" cy="148.06" r="1.15"/><circle cx="309.92" cy="159.42" r="1.15"/><circle cx="316.80" cy="164.02" r="1.15"/></g>
</g>
<line x1="268.90" y1="174.50" x2="268.90" y2="103.10" stroke="#3a3a3a" stroke-width="1.4" stroke-dasharray="2.65 1.78"/>
<rect x="220.50" y="103.10" width="96.30" height="69.70" fill="none" stroke="#d2d2d2" stroke-width="1"/>
<path d="M234.26 172.80v-1M234.26 103.10v1M248.01 172.80v-1M248.01 103.10v1M261.77 172.80v-1M261.77 103.10v1M275.53 172.80v-1M275.53 103.10v1M289.29 172.80v-1M289.29 103.10v1M303.04 172.80v-1M303.04 103.10v1M220.50 158.86h1M316.80 158.86h-1M220.50 144.92h1M316.80 144.92h-1M220.50 130.98h1M316.80 130.98h-1M220.50 117.04h1M316.80 117.04h-1" stroke="#aaaaaa" stroke-width="0.8" fill="none"/>
<g font-size="8.1" fill="#2c2c2c" stroke="#2c2c2c" stroke-width="0.15"><text transform="translate(220.60 181.40) scale(0.86 1)" text-anchor="middle">0</text><text transform="translate(234.34 181.40) scale(0.86 1)" text-anchor="middle">2</text><text transform="translate(248.09 181.40) scale(0.86 1)" text-anchor="middle">4</text><text transform="translate(261.83 181.40) scale(0.86 1)" text-anchor="middle">6</text><text transform="translate(275.57 181.40) scale(0.86 1)" text-anchor="middle">8</text><text transform="translate(289.31 181.40) scale(0.86 1)" text-anchor="middle">10</text><text transform="translate(303.06 181.40) scale(0.86 1)" text-anchor="middle">12</text><text transform="translate(316.80 181.40) scale(0.86 1)" text-anchor="middle">14</text><text transform="translate(219.20 175.90) scale(0.86 1)" text-anchor="end">0</text><text transform="translate(219.20 161.96) scale(0.86 1)" text-anchor="end">0.2</text><text transform="translate(219.20 148.02) scale(0.86 1)" text-anchor="end">0.4</text><text transform="translate(219.20 134.08) scale(0.86 1)" text-anchor="end">0.6</text><text transform="translate(219.20 120.14) scale(0.86 1)" text-anchor="end">0.8</text><text transform="translate(219.20 106.20) scale(0.86 1)" text-anchor="end">1</text></g>
<text transform="translate(269.45 192.70) scale(1.0 1)" text-anchor="middle" font-size="9.5" fill="#222222" stroke="#222222" stroke-width="0.25">Image Sequence</text>
<text transform="translate(205.80,138.75) rotate(-90)" text-anchor="middle" font-size="9.45" fill="#222222" stroke="#222222" stroke-width="0.25">Normalized SEV</text>
<rect x="310.60" y="113.10" width="17.60" height="43.10" fill="#fff" stroke="#d2d2d2" stroke-width="0.9"/>
<line x1="311.80" y1="119.13" x2="318.80" y2="119.13" stroke="#c03ae4" stroke-width="0.7"/>
<circle cx="315.20" cy="119.13" r="1.15" fill="#c03ae4"/>
<text x="319.60" y="120.53" font-size="6.9" font-style="italic" fill="#3a3a3a" stroke="#3a3a3a" stroke-width="0.12">F<tspan font-size="4.7" dx="-0.1" dy="3.3">T</tspan></text>
<line x1="311.80" y1="129.62" x2="318.80" y2="129.62" stroke="#2fae6a" stroke-width="0.7"/>
<circle cx="315.20" cy="129.62" r="1.15" fill="#2fae6a"/>
<text x="319.60" y="131.02" font-size="6.9" font-style="italic" fill="#3a3a3a" stroke="#3a3a3a" stroke-width="0.12">F<tspan font-size="4.7" dx="-0.1" dy="3.3">L</tspan></text>
<line x1="311.80" y1="140.11" x2="318.80" y2="140.11" stroke="#ff9038" stroke-width="0.7"/>
<circle cx="315.20" cy="140.11" r="1.15" fill="#ff9038"/>
<text x="319.60" y="141.51" font-size="6.9" font-style="italic" fill="#3a3a3a" stroke="#3a3a3a" stroke-width="0.12">F<tspan font-size="4.7" dx="-0.1" dy="3.3">M</tspan></text>
<line x1="311.80" y1="150.59" x2="318.80" y2="150.59" stroke="#ff1a1a" stroke-width="0.7"/>
<circle cx="315.20" cy="150.59" r="1.15" fill="#ff1a1a"/>
<text x="319.60" y="151.99" font-size="6.9" font-style="italic" fill="#3a3a3a" stroke="#3a3a3a" stroke-width="0.12">F<tspan font-size="4.7" dx="-0.1" dy="3.3">A</tspan></text>
<path d="M367.96 103.10V171.40M381.41 103.10V171.40M394.87 103.10V171.40M408.33 103.10V171.40M421.79 103.10V171.40M435.24 103.10V171.40M354.50 157.74H448.70M354.50 144.08H448.70M354.50 130.42H448.70M354.50 116.76H448.70" stroke="#f3f3f3" stroke-width="0.8" fill="none"/>
<g>
<polyline points="354.50,109.38 361.23,103.10 367.96,105.63 374.69,111.23 381.41,118.67 388.14,115.87 394.87,104.12 401.60,111.64 408.33,107.13 415.06,104.67 421.79,122.09 428.51,127.07 435.24,155.83 441.97,158.97 448.70,170.17" fill="none" stroke="#c03ae4" stroke-width="0.72" stroke-linejoin="round"/>
<g fill="#c03ae4"><circle cx="354.50" cy="109.38" r="1.15"/><circle cx="361.23" cy="103.10" r="1.15"/><circle cx="367.96" cy="105.63" r="1.15"/><circle cx="374.69" cy="111.23" r="1.15"/><circle cx="381.41" cy="118.67" r="1.15"/><circle cx="388.14" cy="115.87" r="1.15"/><circle cx="394.87" cy="104.12" r="1.15"/><circle cx="401.60" cy="111.64" r="1.15"/><circle cx="408.33" cy="107.13" r="1.15"/><circle cx="415.06" cy="104.67" r="1.15"/><circle cx="421.79" cy="122.09" r="1.15"/><circle cx="428.51" cy="127.07" r="1.15"/><circle cx="435.24" cy="155.83" r="1.15"/><circle cx="441.97" cy="158.97" r="1.15"/><circle cx="448.70" cy="170.17" r="1.15"/></g>
<polyline points="354.50,107.88 361.23,109.38 367.96,116.49 374.69,105.63 381.41,103.37 388.14,114.98 394.87,105.97 401.60,117.78 408.33,103.10 415.06,109.73 421.79,110.27 428.51,127.07 435.24,132.81 441.97,143.40 448.70,150.91" fill="none" stroke="#2fae6a" stroke-width="0.72" stroke-linejoin="round"/>
<g fill="#2fae6a"><circle cx="354.50" cy="107.88" r="1.15"/><circle cx="361.23" cy="109.38" r="1.15"/><circle cx="367.96" cy="116.49" r="1.15"/><circle cx="374.69" cy="105.63" r="1.15"/><circle cx="381.41" cy="103.37" r="1.15"/><circle cx="388.14" cy="114.98" r="1.15"/><circle cx="394.87" cy="105.97" r="1.15"/><circle cx="401.60" cy="117.78" r="1.15"/><circle cx="408.33" cy="103.10" r="1.15"/><circle cx="415.06" cy="109.73" r="1.15"/><circle cx="421.79" cy="110.27" r="1.15"/><circle cx="428.51" cy="127.07" r="1.15"/><circle cx="435.24" cy="132.81" r="1.15"/><circle cx="441.97" cy="143.40" r="1.15"/><circle cx="448.70" cy="150.91" r="1.15"/></g>
<polyline points="354.50,139.71 361.23,154.32 367.96,146.40 374.69,138.41 381.41,152.00 388.14,133.70 394.87,132.20 401.60,133.29 408.33,137.39 415.06,135.20 421.79,157.13 428.51,149.61 435.24,142.99 441.97,107.88 448.70,103.10" fill="none" stroke="#ff9038" stroke-width="0.72" stroke-linejoin="round"/>
<g fill="#ff9038"><circle cx="354.50" cy="139.71" r="1.15"/><circle cx="361.23" cy="154.32" r="1.15"/><circle cx="367.96" cy="146.40" r="1.15"/><circle cx="374.69" cy="138.41" r="1.15"/><circle cx="381.41" cy="152.00" r="1.15"/><circle cx="388.14" cy="133.70" r="1.15"/><circle cx="394.87" cy="132.20" r="1.15"/><circle cx="401.60" cy="133.29" r="1.15"/><circle cx="408.33" cy="137.39" r="1.15"/><circle cx="415.06" cy="135.20" r="1.15"/><circle cx="421.79" cy="157.13" r="1.15"/><circle cx="428.51" cy="149.61" r="1.15"/><circle cx="435.24" cy="142.99" r="1.15"/><circle cx="441.97" cy="107.88" r="1.15"/><circle cx="448.70" cy="103.10" r="1.15"/></g>
<polyline points="354.50,137.11 361.23,119.70 367.96,103.10 374.69,123.39 381.41,139.30 388.14,156.17 394.87,143.40 401.60,139.30 408.33,135.20 415.06,155.83 421.79,142.71 428.51,160.81 435.24,156.17 441.97,149.61 448.70,144.08" fill="none" stroke="#ff1a1a" stroke-width="0.72" stroke-linejoin="round"/>
<g fill="#ff1a1a"><circle cx="354.50" cy="137.11" r="1.15"/><circle cx="361.23" cy="119.70" r="1.15"/><circle cx="367.96" cy="103.10" r="1.15"/><circle cx="374.69" cy="123.39" r="1.15"/><circle cx="381.41" cy="139.30" r="1.15"/><circle cx="388.14" cy="156.17" r="1.15"/><circle cx="394.87" cy="143.40" r="1.15"/><circle cx="401.60" cy="139.30" r="1.15"/><circle cx="408.33" cy="135.20" r="1.15"/><circle cx="415.06" cy="155.83" r="1.15"/><circle cx="421.79" cy="142.71" r="1.15"/><circle cx="428.51" cy="160.81" r="1.15"/><circle cx="435.24" cy="156.17" r="1.15"/><circle cx="441.97" cy="149.61" r="1.15"/><circle cx="448.70" cy="144.08" r="1.15"/></g>
</g>
<line x1="401.90" y1="173.15" x2="401.90" y2="103.10" stroke="#5c5c5c" stroke-width="1.8" stroke-dasharray="2.65 1.78"/>
<rect x="354.50" y="103.10" width="94.20" height="68.30" fill="none" stroke="#d2d2d2" stroke-width="1"/>
<path d="M367.96 171.40v-1M367.96 103.10v1M381.41 171.40v-1M381.41 103.10v1M394.87 171.40v-1M394.87 103.10v1M408.33 171.40v-1M408.33 103.10v1M421.79 171.40v-1M421.79 103.10v1M435.24 171.40v-1M435.24 103.10v1M354.50 157.74h1M448.70 157.74h-1M354.50 144.08h1M448.70 144.08h-1M354.50 130.42h1M448.70 130.42h-1M354.50 116.76h1M448.70 116.76h-1" stroke="#aaaaaa" stroke-width="0.8" fill="none"/>
<g font-size="8.1" fill="#2c2c2c" stroke="#2c2c2c" stroke-width="0.15"><text transform="translate(354.30 180.00) scale(0.86 1)" text-anchor="middle">0</text><text transform="translate(367.79 180.00) scale(0.86 1)" text-anchor="middle">2</text><text transform="translate(381.27 180.00) scale(0.86 1)" text-anchor="middle">4</text><text transform="translate(394.76 180.00) scale(0.86 1)" text-anchor="middle">6</text><text transform="translate(408.24 180.00) scale(0.86 1)" text-anchor="middle">8</text><text transform="translate(421.73 180.00) scale(0.86 1)" text-anchor="middle">10</text><text transform="translate(435.21 180.00) scale(0.86 1)" text-anchor="middle">12</text><text transform="translate(448.70 180.00) scale(0.86 1)" text-anchor="middle">14</text><text transform="translate(353.20 174.50) scale(0.86 1)" text-anchor="end">0</text><text transform="translate(353.20 160.84) scale(0.86 1)" text-anchor="end">0.2</text><text transform="translate(353.20 147.18) scale(0.86 1)" text-anchor="end">0.4</text><text transform="translate(353.20 133.52) scale(0.86 1)" text-anchor="end">0.6</text><text transform="translate(353.20 119.86) scale(0.86 1)" text-anchor="end">0.8</text><text transform="translate(353.20 106.20) scale(0.86 1)" text-anchor="end">1</text></g>
<text transform="translate(402.40 191.30) scale(1.0 1)" text-anchor="middle" font-size="9.5" fill="#222222" stroke="#222222" stroke-width="0.25">Image Sequence</text>
<text transform="translate(339.40,138.15) rotate(-90)" text-anchor="middle" font-size="9.45" fill="#222222" stroke="#222222" stroke-width="0.25">Normalized SEV</text>
<rect x="443.20" y="114.50" width="17.00" height="42.40" fill="#fff" stroke="#d2d2d2" stroke-width="0.9"/>
<line x1="444.40" y1="120.44" x2="451.40" y2="120.44" stroke="#c03ae4" stroke-width="0.7"/>
<circle cx="447.80" cy="120.44" r="1.15" fill="#c03ae4"/>
<text x="452.20" y="121.84" font-size="6.9" font-style="italic" fill="#3a3a3a" stroke="#3a3a3a" stroke-width="0.12">F<tspan font-size="4.7" dx="-0.1" dy="3.3">T</tspan></text>
<line x1="444.40" y1="130.75" x2="451.40" y2="130.75" stroke="#2fae6a" stroke-width="0.7"/>
<circle cx="447.80" cy="130.75" r="1.15" fill="#2fae6a"/>
<text x="452.20" y="132.15" font-size="6.9" font-style="italic" fill="#3a3a3a" stroke="#3a3a3a" stroke-width="0.12">F<tspan font-size="4.7" dx="-0.1" dy="3.3">L</tspan></text>
<line x1="444.40" y1="141.07" x2="451.40" y2="141.07" stroke="#ff9038" stroke-width="0.7"/>
<circle cx="447.80" cy="141.07" r="1.15" fill="#ff9038"/>
<text x="452.20" y="142.47" font-size="6.9" font-style="italic" fill="#3a3a3a" stroke="#3a3a3a" stroke-width="0.12">F<tspan font-size="4.7" dx="-0.1" dy="3.3">M</tspan></text>
<line x1="444.40" y1="151.38" x2="451.40" y2="151.38" stroke="#ff1a1a" stroke-width="0.7"/>
<circle cx="447.80" cy="151.38" r="1.15" fill="#ff1a1a"/>
<text x="452.20" y="152.78" font-size="6.9" font-style="italic" fill="#3a3a3a" stroke="#3a3a3a" stroke-width="0.12">F<tspan font-size="4.7" dx="-0.1" dy="3.3">A</tspan></text>
<path d="M105.56 197.50V267.50M119.21 197.50V267.50M132.87 197.50V267.50M146.53 197.50V267.50M160.19 197.50V267.50M173.84 197.50V267.50M91.30 253.50H187.50M91.30 239.50H187.50M91.30 225.50H187.50M91.30 211.50H187.50" stroke="#f3f3f3" stroke-width="0.8" fill="none"/>
<g>
<polyline points="91.90,262.11 98.73,258.89 105.56,256.37 112.39,252.66 119.21,245.73 126.04,228.72 132.87,210.59 139.70,198.13 146.53,210.59 153.36,221.23 160.19,240.06 167.01,250.00 173.84,256.93 180.67,263.16 187.50,267.50" fill="none" stroke="#c03ae4" stroke-width="0.72" stroke-linejoin="round"/>
<g fill="#c03ae4"><circle cx="91.90" cy="262.11" r="1.15"/><circle cx="98.73" cy="258.89" r="1.15"/><circle cx="105.56" cy="256.37" r="1.15"/><circle cx="112.39" cy="252.66" r="1.15"/><circle cx="119.21" cy="245.73" r="1.15"/><circle cx="126.04" cy="228.72" r="1.15"/><circle cx="132.87" cy="210.59" r="1.15"/><circle cx="139.70" cy="198.13" r="1.15"/><circle cx="146.53" cy="210.59" r="1.15"/><circle cx="153.36" cy="221.23" r="1.15"/><circle cx="160.19" cy="240.06" r="1.15"/><circle cx="167.01" cy="250.00" r="1.15"/><circle cx="173.84" cy="256.93" r="1.15"/><circle cx="180.67" cy="263.16" r="1.15"/><circle cx="187.50" cy="267.50" r="1.15"/></g>
<polyline points="91.90,265.12 98.73,263.86 105.56,261.27 112.39,259.80 119.21,253.22 126.04,239.08 132.87,221.23 139.70,199.60 146.53,215.56 153.36,231.52 160.19,246.22 167.01,252.66 173.84,257.84 180.67,263.16 187.50,267.50" fill="none" stroke="#2fae6a" stroke-width="0.72" stroke-linejoin="round"/>
<g fill="#2fae6a"><circle cx="91.90" cy="265.12" r="1.15"/><circle cx="98.73" cy="263.86" r="1.15"/><circle cx="105.56" cy="261.27" r="1.15"/><circle cx="112.39" cy="259.80" r="1.15"/><circle cx="119.21" cy="253.22" r="1.15"/><circle cx="126.04" cy="239.08" r="1.15"/><circle cx="132.87" cy="221.23" r="1.15"/><circle cx="139.70" cy="199.60" r="1.15"/><circle cx="146.53" cy="215.56" r="1.15"/><circle cx="153.36" cy="231.52" r="1.15"/><circle cx="160.19" cy="246.22" r="1.15"/><circle cx="167.01" cy="252.66" r="1.15"/><circle cx="173.84" cy="257.84" r="1.15"/><circle cx="180.67" cy="263.16" r="1.15"/><circle cx="187.50" cy="267.50" r="1.15"/></g>
<polyline points="91.90,265.12 98.73,264.70 105.56,263.16 112.39,262.74 119.21,259.38 126.04,247.62 132.87,227.46 139.70,198.20 146.53,216.19 153.36,237.26 160.19,251.96 167.01,258.89 173.84,262.11 180.67,265.40 187.50,267.50" fill="none" stroke="#ff9038" stroke-width="0.72" stroke-linejoin="round"/>
<g fill="#ff9038"><circle cx="91.90" cy="265.12" r="1.15"/><circle cx="98.73" cy="264.70" r="1.15"/><circle cx="105.56" cy="263.16" r="1.15"/><circle cx="112.39" cy="262.74" r="1.15"/><circle cx="119.21" cy="259.38" r="1.15"/><circle cx="126.04" cy="247.62" r="1.15"/><circle cx="132.87" cy="227.46" r="1.15"/><circle cx="139.70" cy="198.20" r="1.15"/><circle cx="146.53" cy="216.19" r="1.15"/><circle cx="153.36" cy="237.26" r="1.15"/><circle cx="160.19" cy="251.96" r="1.15"/><circle cx="167.01" cy="258.89" r="1.15"/><circle cx="173.84" cy="262.11" r="1.15"/><circle cx="180.67" cy="265.40" r="1.15"/><circle cx="187.50" cy="267.50" r="1.15"/></g>
<polyline points="91.90,267.29 98.73,267.29 105.56,265.96 112.39,265.96 119.21,263.58 126.04,252.24 132.87,226.90 139.70,197.50 146.53,222.63 153.36,249.44 160.19,260.15 167.01,263.86 173.84,265.12 180.67,266.38 187.50,267.50" fill="none" stroke="#ff1a1a" stroke-width="0.72" stroke-linejoin="round"/>
<g fill="#ff1a1a"><circle cx="91.90" cy="267.29" r="1.15"/><circle cx="98.73" cy="267.29" r="1.15"/><circle cx="105.56" cy="265.96" r="1.15"/><circle cx="112.39" cy="265.96" r="1.15"/><circle cx="119.21" cy="263.58" r="1.15"/><circle cx="126.04" cy="252.24" r="1.15"/><circle cx="132.87" cy="226.90" r="1.15"/><circle cx="139.70" cy="197.50" r="1.15"/><circle cx="146.53" cy="222.63" r="1.15"/><circle cx="153.36" cy="249.44" r="1.15"/><circle cx="160.19" cy="260.15" r="1.15"/><circle cx="167.01" cy="263.86" r="1.15"/><circle cx="173.84" cy="265.12" r="1.15"/><circle cx="180.67" cy="266.38" r="1.15"/><circle cx="187.50" cy="267.50" r="1.15"/></g>
</g>
<line x1="140.00" y1="268.00" x2="140.00" y2="197.50" stroke="#5c5c5c" stroke-width="1.6" stroke-dasharray="2.65 1.78"/>
<rect x="91.30" y="197.50" width="96.20" height="70.00" fill="none" stroke="#d2d2d2" stroke-width="1"/>
<path d="M105.56 267.50v-1M105.56 197.50v1M119.21 267.50v-1M119.21 197.50v1M132.87 267.50v-1M132.87 197.50v1M146.53 267.50v-1M146.53 197.50v1M160.19 267.50v-1M160.19 197.50v1M173.84 267.50v-1M173.84 197.50v1M91.30 253.50h1M187.50 253.50h-1M91.30 239.50h1M187.50 239.50h-1M91.30 225.50h1M187.50 225.50h-1M91.30 211.50h1M187.50 211.50h-1" stroke="#aaaaaa" stroke-width="0.8" fill="none"/>
<g font-size="8.1" fill="#2c2c2c" stroke="#2c2c2c" stroke-width="0.15"><text transform="translate(91.90 276.10) scale(0.86 1)" text-anchor="middle">0</text><text transform="translate(105.56 276.10) scale(0.86 1)" text-anchor="middle">2</text><text transform="translate(119.21 276.10) scale(0.86 1)" text-anchor="middle">4</text><text transform="translate(132.87 276.10) scale(0.86 1)" text-anchor="middle">6</text><text transform="translate(146.53 276.10) scale(0.86 1)" text-anchor="middle">8</text><text transform="translate(160.19 276.10) scale(0.86 1)" text-anchor="middle">10</text><text transform="translate(173.84 276.10) scale(0.86 1)" text-anchor="middle">12</text><text transform="translate(187.50 276.10) scale(0.86 1)" text-anchor="middle">14</text><text transform="translate(90.00 270.60) scale(0.86 1)" text-anchor="end">0</text><text transform="translate(90.00 256.60) scale(0.86 1)" text-anchor="end">0.2</text><text transform="translate(90.00 242.60) scale(0.86 1)" text-anchor="end">0.4</text><text transform="translate(90.00 228.60) scale(0.86 1)" text-anchor="end">0.6</text><text transform="translate(90.00 214.60) scale(0.86 1)" text-anchor="end">0.8</text><text transform="translate(90.00 200.60) scale(0.86 1)" text-anchor="end">1</text></g>
<text transform="translate(140.20 287.40) scale(1.0 1)" text-anchor="middle" font-size="9.5" fill="#222222" stroke="#222222" stroke-width="0.25">Image Sequence</text>
<text transform="translate(76.50,232.70) rotate(-90)" text-anchor="middle" font-size="9.45" fill="#222222" stroke="#222222" stroke-width="0.25">Normalized SEV</text>
<rect x="166.70" y="200.70" width="18.30" height="44.50" fill="#fff" stroke="#d2d2d2" stroke-width="0.9"/>
<line x1="167.90" y1="206.93" x2="174.90" y2="206.93" stroke="#c03ae4" stroke-width="0.7"/>
<circle cx="171.30" cy="206.93" r="1.15" fill="#c03ae4"/>
<text x="175.70" y="208.33" font-size="6.9" font-style="italic" fill="#3a3a3a" stroke="#3a3a3a" stroke-width="0.12">F<tspan font-size="4.7" dx="-0.1" dy="3.3">T</tspan></text>
<line x1="167.90" y1="217.76" x2="174.90" y2="217.76" stroke="#2fae6a" stroke-width="0.7"/>
<circle cx="171.30" cy="217.76" r="1.15" fill="#2fae6a"/>
<text x="175.70" y="219.16" font-size="6.9" font-style="italic" fill="#3a3a3a" stroke="#3a3a3a" stroke-width="0.12">F<tspan font-size="4.7" dx="-0.1" dy="3.3">L</tspan></text>
<line x1="167.90" y1="228.58" x2="174.90" y2="228.58" stroke="#ff9038" stroke-width="0.7"/>
<circle cx="171.30" cy="228.58" r="1.15" fill="#ff9038"/>
<text x="175.70" y="229.98" font-size="6.9" font-style="italic" fill="#3a3a3a" stroke="#3a3a3a" stroke-width="0.12">F<tspan font-size="4.7" dx="-0.1" dy="3.3">M</tspan></text>
<line x1="167.90" y1="239.41" x2="174.90" y2="239.41" stroke="#ff1a1a" stroke-width="0.7"/>
<circle cx="171.30" cy="239.41" r="1.15" fill="#ff1a1a"/>
<text x="175.70" y="240.81" font-size="6.9" font-style="italic" fill="#3a3a3a" stroke="#3a3a3a" stroke-width="0.12">F<tspan font-size="4.7" dx="-0.1" dy="3.3">A</tspan></text>
<path d="M234.26 197.50V267.50M248.01 197.50V267.50M261.77 197.50V267.50M275.53 197.50V267.50M289.29 197.50V267.50M303.04 197.50V267.50M220.50 253.50H316.80M220.50 239.50H316.80M220.50 225.50H316.80M220.50 211.50H316.80" stroke="#f3f3f3" stroke-width="0.8" fill="none"/>
<g>
<polyline points="220.50,265.40 227.38,262.60 234.26,262.60 241.14,252.24 248.01,240.62 254.89,218.36 261.77,202.40 268.65,198.20 275.53,204.92 282.41,223.68 289.29,237.54 296.16,255.04 303.04,263.58 309.92,263.86 316.80,266.38" fill="none" stroke="#c03ae4" stroke-width="0.72" stroke-linejoin="round"/>
<g fill="#c03ae4"><circle cx="220.50" cy="265.40" r="1.15"/><circle cx="227.38" cy="262.60" r="1.15"/><circle cx="234.26" cy="262.60" r="1.15"/><circle cx="241.14" cy="252.24" r="1.15"/><circle cx="248.01" cy="240.62" r="1.15"/><circle cx="254.89" cy="218.36" r="1.15"/><circle cx="261.77" cy="202.40" r="1.15"/><circle cx="268.65" cy="198.20" r="1.15"/><circle cx="275.53" cy="204.92" r="1.15"/><circle cx="282.41" cy="223.68" r="1.15"/><circle cx="289.29" cy="237.54" r="1.15"/><circle cx="296.16" cy="255.04" r="1.15"/><circle cx="303.04" cy="263.58" r="1.15"/><circle cx="309.92" cy="263.86" r="1.15"/><circle cx="316.80" cy="266.38" r="1.15"/></g>
<polyline points="220.50,265.12 227.38,264.70 234.26,265.12 241.14,260.78 248.01,250.42 254.89,231.52 261.77,210.87 268.65,198.69 275.53,208.70 282.41,230.68 289.29,250.00 296.16,260.78 303.04,265.40 309.92,265.75 316.80,266.80" fill="none" stroke="#2fae6a" stroke-width="0.72" stroke-linejoin="round"/>
<g fill="#2fae6a"><circle cx="220.50" cy="265.12" r="1.15"/><circle cx="227.38" cy="264.70" r="1.15"/><circle cx="234.26" cy="265.12" r="1.15"/><circle cx="241.14" cy="260.78" r="1.15"/><circle cx="248.01" cy="250.42" r="1.15"/><circle cx="254.89" cy="231.52" r="1.15"/><circle cx="261.77" cy="210.87" r="1.15"/><circle cx="268.65" cy="198.69" r="1.15"/><circle cx="275.53" cy="208.70" r="1.15"/><circle cx="282.41" cy="230.68" r="1.15"/><circle cx="289.29" cy="250.00" r="1.15"/><circle cx="296.16" cy="260.78" r="1.15"/><circle cx="303.04" cy="265.40" r="1.15"/><circle cx="309.92" cy="265.75" r="1.15"/><circle cx="316.80" cy="266.80" r="1.15"/></g>
<polyline points="220.50,266.38 227.38,265.40 234.26,265.75 241.14,263.16 248.01,258.89 254.89,246.64 261.77,222.21 268.65,198.20 275.53,216.19 282.41,231.52 289.29,250.00 296.16,260.78 303.04,264.70 309.92,265.40 316.80,266.80" fill="none" stroke="#ff9038" stroke-width="0.72" stroke-linejoin="round"/>
<g fill="#ff9038"><circle cx="220.50" cy="266.38" r="1.15"/><circle cx="227.38" cy="265.40" r="1.15"/><circle cx="234.26" cy="265.75" r="1.15"/><circle cx="241.14" cy="263.16" r="1.15"/><circle cx="248.01" cy="258.89" r="1.15"/><circle cx="254.89" cy="246.64" r="1.15"/><circle cx="261.77" cy="222.21" r="1.15"/><circle cx="268.65" cy="198.20" r="1.15"/><circle cx="275.53" cy="216.19" r="1.15"/><circle cx="282.41" cy="231.52" r="1.15"/><circle cx="289.29" cy="250.00" r="1.15"/><circle cx="296.16" cy="260.78" r="1.15"/><circle cx="303.04" cy="264.70" r="1.15"/><circle cx="309.92" cy="265.40" r="1.15"/><circle cx="316.80" cy="266.80" r="1.15"/></g>
<polyline points="220.50,266.38 227.38,266.80 234.26,265.40 241.14,264.70 248.01,261.69 254.89,255.67 261.77,224.10 268.65,197.50 275.53,223.19 282.41,256.02 289.29,265.12 296.16,264.70 303.04,264.70 309.92,266.38 316.80,266.80" fill="none" stroke="#ff1a1a" stroke-width="0.72" stroke-linejoin="round"/>
<g fill="#ff1a1a"><circle cx="220.50" cy="266.38" r="1.15"/><circle cx="227.38" cy="266.80" r="1.15"/><circle cx="234.26" cy="265.40" r="1.15"/><circle cx="241.14" cy="264.70" r="1.15"/><circle cx="248.01" cy="261.69" r="1.15"/><circle cx="254.89" cy="255.67" r="1.15"/><circle cx="261.77" cy="224.10" r="1.15"/><circle cx="268.65" cy="197.50" r="1.15"/><circle cx="275.53" cy="223.19" r="1.15"/><circle cx="282.41" cy="256.02" r="1.15"/><circle cx="289.29" cy="265.12" r="1.15"/><circle cx="296.16" cy="264.70" r="1.15"/><circle cx="303.04" cy="264.70" r="1.15"/><circle cx="309.92" cy="266.38" r="1.15"/><circle cx="316.80" cy="266.80" r="1.15"/></g>
</g>
<line x1="268.70" y1="268.00" x2="268.70" y2="197.50" stroke="#3a3a3a" stroke-width="1.4" stroke-dasharray="2.65 1.78"/>
<rect x="220.50" y="197.50" width="96.30" height="70.00" fill="none" stroke="#d2d2d2" stroke-width="1"/>
<path d="M234.26 267.50v-1M234.26 197.50v1M248.01 267.50v-1M248.01 197.50v1M261.77 267.50v-1M261.77 197.50v1M275.53 267.50v-1M275.53 197.50v1M289.29 267.50v-1M289.29 197.50v1M303.04 267.50v-1M303.04 197.50v1M220.50 253.50h1M316.80 253.50h-1M220.50 239.50h1M316.80 239.50h-1M220.50 225.50h1M316.80 225.50h-1M220.50 211.50h1M316.80 211.50h-1" stroke="#aaaaaa" stroke-width="0.8" fill="none"/>
<g font-size="8.1" fill="#2c2c2c" stroke="#2c2c2c" stroke-width="0.15"><text transform="translate(220.60 276.10) scale(0.86 1)" text-anchor="middle">0</text><text transform="translate(234.34 276.10) scale(0.86 1)" text-anchor="middle">2</text><text transform="translate(248.09 276.10) scale(0.86 1)" text-anchor="middle">4</text><text transform="translate(261.83 276.10) scale(0.86 1)" text-anchor="middle">6</text><text transform="translate(275.57 276.10) scale(0.86 1)" text-anchor="middle">8</text><text transform="translate(289.31 276.10) scale(0.86 1)" text-anchor="middle">10</text><text transform="translate(303.06 276.10) scale(0.86 1)" text-anchor="middle">12</text><text transform="translate(316.80 276.10) scale(0.86 1)" text-anchor="middle">14</text><text transform="translate(219.20 270.60) scale(0.86 1)" text-anchor="end">0</text><text transform="translate(219.20 256.60) scale(0.86 1)" text-anchor="end">0.2</text><text transform="translate(219.20 242.60) scale(0.86 1)" text-anchor="end">0.4</text><text transform="translate(219.20 228.60) scale(0.86 1)" text-anchor="end">0.6</text><text transform="translate(219.20 214.60) scale(0.86 1)" text-anchor="end">0.8</text><text transform="translate(219.20 200.60) scale(0.86 1)" text-anchor="end">1</text></g>
<text transform="translate(269.45 287.40) scale(1.0 1)" text-anchor="middle" font-size="9.5" fill="#222222" stroke="#222222" stroke-width="0.25">Image Sequence</text>
<text transform="translate(205.80,233.30) rotate(-90)" text-anchor="middle" font-size="9.45" fill="#222222" stroke="#222222" stroke-width="0.25">Normalized SEV</text>
<rect x="295.80" y="200.70" width="18.20" height="44.50" fill="#fff" stroke="#d2d2d2" stroke-width="0.9"/>
<line x1="297.00" y1="206.93" x2="304.00" y2="206.93" stroke="#c03ae4" stroke-width="0.7"/>
<circle cx="300.40" cy="206.93" r="1.15" fill="#c03ae4"/>
<text x="304.80" y="208.33" font-size="6.9" font-style="italic" fill="#3a3a3a" stroke="#3a3a3a" stroke-width="0.12">F<tspan font-size="4.7" dx="-0.1" dy="3.3">T</tspan></text>
<line x1="297.00" y1="217.76" x2="304.00" y2="217.76" stroke="#2fae6a" stroke-width="0.7"/>
<circle cx="300.40" cy="217.76" r="1.15" fill="#2fae6a"/>
<text x="304.80" y="219.16" font-size="6.9" font-style="italic" fill="#3a3a3a" stroke="#3a3a3a" stroke-width="0.12">F<tspan font-size="4.7" dx="-0.1" dy="3.3">L</tspan></text>
<line x1="297.00" y1="228.58" x2="304.00" y2="228.58" stroke="#ff9038" stroke-width="0.7"/>
<circle cx="300.40" cy="228.58" r="1.15" fill="#ff9038"/>
<text x="304.80" y="229.98" font-size="6.9" font-style="italic" fill="#3a3a3a" stroke="#3a3a3a" stroke-width="0.12">F<tspan font-size="4.7" dx="-0.1" dy="3.3">M</tspan></text>
<line x1="297.00" y1="239.41" x2="304.00" y2="239.41" stroke="#ff1a1a" stroke-width="0.7"/>
<circle cx="300.40" cy="239.41" r="1.15" fill="#ff1a1a"/>
<text x="304.80" y="240.81" font-size="6.9" font-style="italic" fill="#3a3a3a" stroke="#3a3a3a" stroke-width="0.12">F<tspan font-size="4.7" dx="-0.1" dy="3.3">A</tspan></text>
<path d="M367.96 198.30V266.80M381.41 198.30V266.80M394.87 198.30V266.80M408.33 198.30V266.80M421.79 198.30V266.80M435.24 198.30V266.80M354.50 253.10H448.70M354.50 239.40H448.70M354.50 225.70H448.70M354.50 212.00H448.70" stroke="#f3f3f3" stroke-width="0.8" fill="none"/>
<g>
<polyline points="354.50,265.29 361.23,263.38 367.96,260.98 374.69,257.83 381.41,246.94 388.14,223.51 394.87,203.92 401.60,199.19 408.33,204.81 415.06,224.12 421.79,240.43 428.51,259.13 435.24,264.06 441.97,265.29 448.70,263.79" fill="none" stroke="#c03ae4" stroke-width="0.72" stroke-linejoin="round"/>
<g fill="#c03ae4"><circle cx="354.50" cy="265.29" r="1.15"/><circle cx="361.23" cy="263.38" r="1.15"/><circle cx="367.96" cy="260.98" r="1.15"/><circle cx="374.69" cy="257.83" r="1.15"/><circle cx="381.41" cy="246.94" r="1.15"/><circle cx="388.14" cy="223.51" r="1.15"/><circle cx="394.87" cy="203.92" r="1.15"/><circle cx="401.60" cy="199.19" r="1.15"/><circle cx="408.33" cy="204.81" r="1.15"/><circle cx="415.06" cy="224.12" r="1.15"/><circle cx="421.79" cy="240.43" r="1.15"/><circle cx="428.51" cy="259.13" r="1.15"/><circle cx="435.24" cy="264.06" r="1.15"/><circle cx="441.97" cy="265.29" r="1.15"/><circle cx="448.70" cy="263.79" r="1.15"/></g>
<polyline points="354.50,266.80 361.23,265.98 367.96,265.43 374.69,260.98 381.41,253.99 388.14,233.37 394.87,206.11 401.60,199.19 408.33,214.19 415.06,242.21 421.79,252.48 428.51,264.68 435.24,264.68 441.97,265.43 448.70,259.61" fill="none" stroke="#2fae6a" stroke-width="0.72" stroke-linejoin="round"/>
<g fill="#2fae6a"><circle cx="354.50" cy="266.80" r="1.15"/><circle cx="361.23" cy="265.98" r="1.15"/><circle cx="367.96" cy="265.43" r="1.15"/><circle cx="374.69" cy="260.98" r="1.15"/><circle cx="381.41" cy="253.99" r="1.15"/><circle cx="388.14" cy="233.37" r="1.15"/><circle cx="394.87" cy="206.11" r="1.15"/><circle cx="401.60" cy="199.19" r="1.15"/><circle cx="408.33" cy="214.19" r="1.15"/><circle cx="415.06" cy="242.21" r="1.15"/><circle cx="421.79" cy="252.48" r="1.15"/><circle cx="428.51" cy="264.68" r="1.15"/><circle cx="435.24" cy="264.68" r="1.15"/><circle cx="441.97" cy="265.43" r="1.15"/><circle cx="448.70" cy="259.61" r="1.15"/></g>
<polyline points="354.50,265.43 361.23,265.98 367.96,265.98 374.69,263.79 381.41,259.95 388.14,249.68 394.87,223.51 401.60,199.19 408.33,212.27 415.06,227.82 421.79,247.89 428.51,260.98 435.24,265.29 441.97,265.98 448.70,266.39" fill="none" stroke="#ff9038" stroke-width="0.72" stroke-linejoin="round"/>
<g fill="#ff9038"><circle cx="354.50" cy="265.43" r="1.15"/><circle cx="361.23" cy="265.98" r="1.15"/><circle cx="367.96" cy="265.98" r="1.15"/><circle cx="374.69" cy="263.79" r="1.15"/><circle cx="381.41" cy="259.95" r="1.15"/><circle cx="388.14" cy="249.68" r="1.15"/><circle cx="394.87" cy="223.51" r="1.15"/><circle cx="401.60" cy="199.19" r="1.15"/><circle cx="408.33" cy="212.27" r="1.15"/><circle cx="415.06" cy="227.82" r="1.15"/><circle cx="421.79" cy="247.89" r="1.15"/><circle cx="428.51" cy="260.98" r="1.15"/><circle cx="435.24" cy="265.29" r="1.15"/><circle cx="441.97" cy="265.98" r="1.15"/><circle cx="448.70" cy="266.39" r="1.15"/></g>
<polyline points="354.50,264.68 361.23,266.59 367.96,263.38 374.69,262.83 381.41,262.83 388.14,257.83 394.87,224.12 401.60,199.19 408.33,219.81 415.06,254.40 421.79,263.38 428.51,265.98 435.24,264.68 441.97,266.39 448.70,265.98" fill="none" stroke="#ff1a1a" stroke-width="0.72" stroke-linejoin="round"/>
<g fill="#ff1a1a"><circle cx="354.50" cy="264.68" r="1.15"/><circle cx="361.23" cy="266.59" r="1.15"/><circle cx="367.96" cy="263.38" r="1.15"/><circle cx="374.69" cy="262.83" r="1.15"/><circle cx="381.41" cy="262.83" r="1.15"/><circle cx="388.14" cy="257.83" r="1.15"/><circle cx="394.87" cy="224.12" r="1.15"/><circle cx="401.60" cy="199.19" r="1.15"/><circle cx="408.33" cy="219.81" r="1.15"/><circle cx="415.06" cy="254.40" r="1.15"/><circle cx="421.79" cy="263.38" r="1.15"/><circle cx="428.51" cy="265.98" r="1.15"/><circle cx="435.24" cy="264.68" r="1.15"/><circle cx="441.97" cy="266.39" r="1.15"/><circle cx="448.70" cy="265.98" r="1.15"/></g>
</g>
<line x1="401.55" y1="268.00" x2="401.55" y2="198.30" stroke="#3a3a3a" stroke-width="1.4" stroke-dasharray="2.65 1.78"/>
<rect x="354.50" y="198.30" width="94.20" height="68.50" fill="none" stroke="#d2d2d2" stroke-width="1"/>
<path d="M367.96 266.80v-1M367.96 198.30v1M381.41 266.80v-1M381.41 198.30v1M394.87 266.80v-1M394.87 198.30v1M408.33 266.80v-1M408.33 198.30v1M421.79 266.80v-1M421.79 198.30v1M435.24 266.80v-1M435.24 198.30v1M354.50 253.10h1M448.70 253.10h-1M354.50 239.40h1M448.70 239.40h-1M354.50 225.70h1M448.70 225.70h-1M354.50 212.00h1M448.70 212.00h-1" stroke="#aaaaaa" stroke-width="0.8" fill="none"/>
<g font-size="8.1" fill="#2c2c2c" stroke="#2c2c2c" stroke-width="0.15"><text transform="translate(354.30 275.40) scale(0.86 1)" text-anchor="middle">0</text><text transform="translate(367.79 275.40) scale(0.86 1)" text-anchor="middle">2</text><text transform="translate(381.27 275.40) scale(0.86 1)" text-anchor="middle">4</text><text transform="translate(394.76 275.40) scale(0.86 1)" text-anchor="middle">6</text><text transform="translate(408.24 275.40) scale(0.86 1)" text-anchor="middle">8</text><text transform="translate(421.73 275.40) scale(0.86 1)" text-anchor="middle">10</text><text transform="translate(435.21 275.40) scale(0.86 1)" text-anchor="middle">12</text><text transform="translate(448.70 275.40) scale(0.86 1)" text-anchor="middle">14</text><text transform="translate(353.20 269.90) scale(0.86 1)" text-anchor="end">0</text><text transform="translate(353.20 256.20) scale(0.86 1)" text-anchor="end">0.2</text><text transform="translate(353.20 242.50) scale(0.86 1)" text-anchor="end">0.4</text><text transform="translate(353.20 228.80) scale(0.86 1)" text-anchor="end">0.6</text><text transform="translate(353.20 215.10) scale(0.86 1)" text-anchor="end">0.8</text><text transform="translate(353.20 201.40) scale(0.86 1)" text-anchor="end">1</text></g>
<text transform="translate(402.40 286.70) scale(1.0 1)" text-anchor="middle" font-size="9.5" fill="#222222" stroke="#222222" stroke-width="0.25">Image Sequence</text>
<text transform="translate(339.40,233.45) rotate(-90)" text-anchor="middle" font-size="9.45" fill="#222222" stroke="#222222" stroke-width="0.25">Normalized SEV</text>
<rect x="428.70" y="200.70" width="17.90" height="44.50" fill="#fff" stroke="#d2d2d2" stroke-width="0.9"/>
<line x1="429.90" y1="206.93" x2="436.90" y2="206.93" stroke="#c03ae4" stroke-width="0.7"/>
<circle cx="433.30" cy="206.93" r="1.15" fill="#c03ae4"/>
<text x="437.70" y="208.33" font-size="6.9" font-style="italic" fill="#3a3a3a" stroke="#3a3a3a" stroke-width="0.12">F<tspan font-size="4.7" dx="-0.1" dy="3.3">T</tspan></text>
<line x1="429.90" y1="217.76" x2="436.90" y2="217.76" stroke="#2fae6a" stroke-width="0.7"/>
<circle cx="433.30" cy="217.76" r="1.15" fill="#2fae6a"/>
<text x="437.70" y="219.16" font-size="6.9" font-style="italic" fill="#3a3a3a" stroke="#3a3a3a" stroke-width="0.12">F<tspan font-size="4.7" dx="-0.1" dy="3.3">L</tspan></text>
<line x1="429.90" y1="228.58" x2="436.90" y2="228.58" stroke="#ff9038" stroke-width="0.7"/>
<circle cx="433.30" cy="228.58" r="1.15" fill="#ff9038"/>
<text x="437.70" y="229.98" font-size="6.9" font-style="italic" fill="#3a3a3a" stroke="#3a3a3a" stroke-width="0.12">F<tspan font-size="4.7" dx="-0.1" dy="3.3">M</tspan></text>
<line x1="429.90" y1="239.41" x2="436.90" y2="239.41" stroke="#ff1a1a" stroke-width="0.7"/>
<circle cx="433.30" cy="239.41" r="1.15" fill="#ff1a1a"/>
<text x="437.70" y="240.81" font-size="6.9" font-style="italic" fill="#3a3a3a" stroke="#3a3a3a" stroke-width="0.12">F<tspan font-size="4.7" dx="-0.1" dy="3.3">A</tspan></text>
<path d="M105.56 293.10V363.00M119.21 293.10V363.00M132.87 293.10V363.00M146.53 293.10V363.00M160.19 293.10V363.00M173.84 293.10V363.00M91.30 349.02H187.50M91.30 335.04H187.50M91.30 321.06H187.50M91.30 307.08H187.50" stroke="#f3f3f3" stroke-width="0.8" fill="none"/>
<g>
<polyline points="91.90,359.37 98.73,359.85 105.56,356.99 112.39,354.05 119.21,346.57 126.04,331.06 132.87,313.58 139.70,295.20 146.53,309.25 153.36,327.63 160.19,346.57 167.01,352.51 173.84,356.36 180.67,360.06 187.50,360.69" fill="none" stroke="#c03ae4" stroke-width="0.72" stroke-linejoin="round"/>
<g fill="#c03ae4"><circle cx="91.90" cy="359.37" r="1.15"/><circle cx="98.73" cy="359.85" r="1.15"/><circle cx="105.56" cy="356.99" r="1.15"/><circle cx="112.39" cy="354.05" r="1.15"/><circle cx="119.21" cy="346.57" r="1.15"/><circle cx="126.04" cy="331.06" r="1.15"/><circle cx="132.87" cy="313.58" r="1.15"/><circle cx="139.70" cy="295.20" r="1.15"/><circle cx="146.53" cy="309.25" r="1.15"/><circle cx="153.36" cy="327.63" r="1.15"/><circle cx="160.19" cy="346.57" r="1.15"/><circle cx="167.01" cy="352.51" r="1.15"/><circle cx="173.84" cy="356.36" r="1.15"/><circle cx="180.67" cy="360.06" r="1.15"/><circle cx="187.50" cy="360.69" r="1.15"/></g>
<polyline points="91.90,360.69 98.73,360.20 105.56,358.81 112.39,356.99 119.21,352.24 126.04,344.69 132.87,320.22 139.70,295.48 146.53,316.38 153.36,335.18 160.19,349.93 167.01,353.14 173.84,356.99 180.67,361.25 187.50,360.20" fill="none" stroke="#2fae6a" stroke-width="0.72" stroke-linejoin="round"/>
<g fill="#2fae6a"><circle cx="91.90" cy="360.69" r="1.15"/><circle cx="98.73" cy="360.20" r="1.15"/><circle cx="105.56" cy="358.81" r="1.15"/><circle cx="112.39" cy="356.99" r="1.15"/><circle cx="119.21" cy="352.24" r="1.15"/><circle cx="126.04" cy="344.69" r="1.15"/><circle cx="132.87" cy="320.22" r="1.15"/><circle cx="139.70" cy="295.48" r="1.15"/><circle cx="146.53" cy="316.38" r="1.15"/><circle cx="153.36" cy="335.18" r="1.15"/><circle cx="160.19" cy="349.93" r="1.15"/><circle cx="167.01" cy="353.14" r="1.15"/><circle cx="173.84" cy="356.99" r="1.15"/><circle cx="180.67" cy="361.25" r="1.15"/><circle cx="187.50" cy="360.20" r="1.15"/></g>
<polyline points="91.90,361.60 98.73,361.25 105.56,360.69 112.39,359.37 119.21,356.99 126.04,346.22 132.87,323.51 139.70,295.90 146.53,320.22 153.36,344.69 160.19,352.24 167.01,356.36 173.84,359.37 180.67,361.25 187.50,361.60" fill="none" stroke="#ff9038" stroke-width="0.72" stroke-linejoin="round"/>
<g fill="#ff9038"><circle cx="91.90" cy="361.60" r="1.15"/><circle cx="98.73" cy="361.25" r="1.15"/><circle cx="105.56" cy="360.69" r="1.15"/><circle cx="112.39" cy="359.37" r="1.15"/><circle cx="119.21" cy="356.99" r="1.15"/><circle cx="126.04" cy="346.22" r="1.15"/><circle cx="132.87" cy="323.51" r="1.15"/><circle cx="139.70" cy="295.90" r="1.15"/><circle cx="146.53" cy="320.22" r="1.15"/><circle cx="153.36" cy="344.69" r="1.15"/><circle cx="160.19" cy="352.24" r="1.15"/><circle cx="167.01" cy="356.36" r="1.15"/><circle cx="173.84" cy="359.37" r="1.15"/><circle cx="180.67" cy="361.25" r="1.15"/><circle cx="187.50" cy="361.60" r="1.15"/></g>
<polyline points="91.90,362.51 98.73,362.51 105.56,361.95 112.39,361.60 119.21,359.85 126.04,349.93 132.87,328.68 139.70,293.38 146.53,325.81 153.36,350.70 160.19,356.99 167.01,360.06 173.84,361.25 180.67,361.95 187.50,362.51" fill="none" stroke="#ff1a1a" stroke-width="0.72" stroke-linejoin="round"/>
<g fill="#ff1a1a"><circle cx="91.90" cy="362.51" r="1.15"/><circle cx="98.73" cy="362.51" r="1.15"/><circle cx="105.56" cy="361.95" r="1.15"/><circle cx="112.39" cy="361.60" r="1.15"/><circle cx="119.21" cy="359.85" r="1.15"/><circle cx="126.04" cy="349.93" r="1.15"/><circle cx="132.87" cy="328.68" r="1.15"/><circle cx="139.70" cy="293.38" r="1.15"/><circle cx="146.53" cy="325.81" r="1.15"/><circle cx="153.36" cy="350.70" r="1.15"/><circle cx="160.19" cy="356.99" r="1.15"/><circle cx="167.01" cy="360.06" r="1.15"/><circle cx="173.84" cy="361.25" r="1.15"/><circle cx="180.67" cy="361.95" r="1.15"/><circle cx="187.50" cy="362.51" r="1.15"/></g>
</g>
<line x1="140.00" y1="363.00" x2="140.00" y2="293.10" stroke="#5c5c5c" stroke-width="1.6" stroke-dasharray="2.65 1.78"/>
<rect x="91.30" y="293.10" width="96.20" height="69.90" fill="none" stroke="#d2d2d2" stroke-width="1"/>
<path d="M105.56 363.00v-1M105.56 293.10v1M119.21 363.00v-1M119.21 293.10v1M132.87 363.00v-1M132.87 293.10v1M146.53 363.00v-1M146.53 293.10v1M160.19 363.00v-1M160.19 293.10v1M173.84 363.00v-1M173.84 293.10v1M91.30 349.02h1M187.50 349.02h-1M91.30 335.04h1M187.50 335.04h-1M91.30 321.06h1M187.50 321.06h-1M91.30 307.08h1M187.50 307.08h-1" stroke="#aaaaaa" stroke-width="0.8" fill="none"/>
<g font-size="8.1" fill="#2c2c2c" stroke="#2c2c2c" stroke-width="0.15"><text transform="translate(91.90 371.60) scale(0.86 1)" text-anchor="middle">0</text><text transform="translate(105.56 371.60) scale(0.86 1)" text-anchor="middle">2</text><text transform="translate(119.21 371.60) scale(0.86 1)" text-anchor="middle">4</text><text transform="translate(132.87 371.60) scale(0.86 1)" text-anchor="middle">6</text><text transform="translate(146.53 371.60) scale(0.86 1)" text-anchor="middle">8</text><text transform="translate(160.19 371.60) scale(0.86 1)" text-anchor="middle">10</text><text transform="translate(173.84 371.60) scale(0.86 1)" text-anchor="middle">12</text><text transform="translate(187.50 371.60) scale(0.86 1)" text-anchor="middle">14</text><text transform="translate(90.00 366.10) scale(0.86 1)" text-anchor="end">0</text><text transform="translate(90.00 352.12) scale(0.86 1)" text-anchor="end">0.2</text><text transform="translate(90.00 338.14) scale(0.86 1)" text-anchor="end">0.4</text><text transform="translate(90.00 324.16) scale(0.86 1)" text-anchor="end">0.6</text><text transform="translate(90.00 310.18) scale(0.86 1)" text-anchor="end">0.8</text><text transform="translate(90.00 296.20) scale(0.86 1)" text-anchor="end">1</text></g>
<text transform="translate(140.20 382.90) scale(1.0 1)" text-anchor="middle" font-size="9.5" fill="#222222" stroke="#222222" stroke-width="0.25">Image Sequence</text>
<text transform="translate(76.50,328.25) rotate(-90)" text-anchor="middle" font-size="9.45" fill="#222222" stroke="#222222" stroke-width="0.25">Normalized SEV</text>
<rect x="166.80" y="296.20" width="18.40" height="44.60" fill="#fff" stroke="#d2d2d2" stroke-width="0.9"/>
<line x1="168.00" y1="302.44" x2="175.00" y2="302.44" stroke="#c03ae4" stroke-width="0.7"/>
<circle cx="171.40" cy="302.44" r="1.15" fill="#c03ae4"/>
<text x="175.80" y="303.84" font-size="6.9" font-style="italic" fill="#3a3a3a" stroke="#3a3a3a" stroke-width="0.12">F<tspan font-size="4.7" dx="-0.1" dy="3.3">T</tspan></text>
<line x1="168.00" y1="313.30" x2="175.00" y2="313.30" stroke="#2fae6a" stroke-width="0.7"/>
<circle cx="171.40" cy="313.30" r="1.15" fill="#2fae6a"/>
<text x="175.80" y="314.70" font-size="6.9" font-style="italic" fill="#3a3a3a" stroke="#3a3a3a" stroke-width="0.12">F<tspan font-size="4.7" dx="-0.1" dy="3.3">L</tspan></text>
<line x1="168.00" y1="324.15" x2="175.00" y2="324.15" stroke="#ff9038" stroke-width="0.7"/>
<circle cx="171.40" cy="324.15" r="1.15" fill="#ff9038"/>
<text x="175.80" y="325.55" font-size="6.9" font-style="italic" fill="#3a3a3a" stroke="#3a3a3a" stroke-width="0.12">F<tspan font-size="4.7" dx="-0.1" dy="3.3">M</tspan></text>
<line x1="168.00" y1="335.00" x2="175.00" y2="335.00" stroke="#ff1a1a" stroke-width="0.7"/>
<circle cx="171.40" cy="335.00" r="1.15" fill="#ff1a1a"/>
<text x="175.80" y="336.40" font-size="6.9" font-style="italic" fill="#3a3a3a" stroke="#3a3a3a" stroke-width="0.12">F<tspan font-size="4.7" dx="-0.1" dy="3.3">A</tspan></text>
<path d="M234.26 293.10V363.00M248.01 293.10V363.00M261.77 293.10V363.00M275.53 293.10V363.00M289.29 293.10V363.00M303.04 293.10V363.00M220.50 349.02H316.80M220.50 335.04H316.80M220.50 321.06H316.80M220.50 307.08H316.80" stroke="#f3f3f3" stroke-width="0.8" fill="none"/>
<g>
<polyline points="220.50,361.60 227.38,358.81 234.26,355.03 241.14,351.82 248.01,344.27 254.89,327.35 261.77,306.59 268.65,293.73 275.53,307.92 282.41,324.83 289.29,345.04 296.16,349.93 303.04,354.47 309.92,358.81 316.80,358.81" fill="none" stroke="#c03ae4" stroke-width="0.72" stroke-linejoin="round"/>
<g fill="#c03ae4"><circle cx="220.50" cy="361.60" r="1.15"/><circle cx="227.38" cy="358.81" r="1.15"/><circle cx="234.26" cy="355.03" r="1.15"/><circle cx="241.14" cy="351.82" r="1.15"/><circle cx="248.01" cy="344.27" r="1.15"/><circle cx="254.89" cy="327.35" r="1.15"/><circle cx="261.77" cy="306.59" r="1.15"/><circle cx="268.65" cy="293.73" r="1.15"/><circle cx="275.53" cy="307.92" r="1.15"/><circle cx="282.41" cy="324.83" r="1.15"/><circle cx="289.29" cy="345.04" r="1.15"/><circle cx="296.16" cy="349.93" r="1.15"/><circle cx="303.04" cy="354.47" r="1.15"/><circle cx="309.92" cy="358.81" r="1.15"/><circle cx="316.80" cy="358.81" r="1.15"/></g>
<polyline points="220.50,361.60 227.38,358.32 234.26,358.32 241.14,353.14 248.01,348.11 254.89,335.18 261.77,315.47 268.65,294.15 275.53,316.80 282.41,334.90 289.29,346.92 296.16,354.05 303.04,355.94 309.92,361.25 316.80,363.00" fill="none" stroke="#2fae6a" stroke-width="0.72" stroke-linejoin="round"/>
<g fill="#2fae6a"><circle cx="220.50" cy="361.60" r="1.15"/><circle cx="227.38" cy="358.32" r="1.15"/><circle cx="234.26" cy="358.32" r="1.15"/><circle cx="241.14" cy="353.14" r="1.15"/><circle cx="248.01" cy="348.11" r="1.15"/><circle cx="254.89" cy="335.18" r="1.15"/><circle cx="261.77" cy="315.47" r="1.15"/><circle cx="268.65" cy="294.15" r="1.15"/><circle cx="275.53" cy="316.80" r="1.15"/><circle cx="282.41" cy="334.90" r="1.15"/><circle cx="289.29" cy="346.92" r="1.15"/><circle cx="296.16" cy="354.05" r="1.15"/><circle cx="303.04" cy="355.94" r="1.15"/><circle cx="309.92" cy="361.25" r="1.15"/><circle cx="316.80" cy="363.00" r="1.15"/></g>
<polyline points="220.50,361.95 227.38,361.60 234.26,360.06 241.14,358.32 248.01,351.82 254.89,341.82 261.77,321.97 268.65,293.73 275.53,323.93 282.41,341.82 289.29,353.14 296.16,356.99 303.04,358.32 309.92,360.06 316.80,362.51" fill="none" stroke="#ff9038" stroke-width="0.72" stroke-linejoin="round"/>
<g fill="#ff9038"><circle cx="220.50" cy="361.95" r="1.15"/><circle cx="227.38" cy="361.60" r="1.15"/><circle cx="234.26" cy="360.06" r="1.15"/><circle cx="241.14" cy="358.32" r="1.15"/><circle cx="248.01" cy="351.82" r="1.15"/><circle cx="254.89" cy="341.82" r="1.15"/><circle cx="261.77" cy="321.97" r="1.15"/><circle cx="268.65" cy="293.73" r="1.15"/><circle cx="275.53" cy="323.93" r="1.15"/><circle cx="282.41" cy="341.82" r="1.15"/><circle cx="289.29" cy="353.14" r="1.15"/><circle cx="296.16" cy="356.99" r="1.15"/><circle cx="303.04" cy="358.32" r="1.15"/><circle cx="309.92" cy="360.06" r="1.15"/><circle cx="316.80" cy="362.51" r="1.15"/></g>
<polyline points="220.50,361.60 227.38,361.95 234.26,361.25 241.14,359.37 248.01,356.36 254.89,347.48 261.77,324.35 268.65,293.10 275.53,326.72 282.41,346.92 289.29,355.94 296.16,356.99 303.04,358.32 309.92,361.25 316.80,363.00" fill="none" stroke="#ff1a1a" stroke-width="0.72" stroke-linejoin="round"/>
<g fill="#ff1a1a"><circle cx="220.50" cy="361.60" r="1.15"/><circle cx="227.38" cy="361.95" r="1.15"/><circle cx="234.26" cy="361.25" r="1.15"/><circle cx="241.14" cy="359.37" r="1.15"/><circle cx="248.01" cy="356.36" r="1.15"/><circle cx="254.89" cy="347.48" r="1.15"/><circle cx="261.77" cy="324.35" r="1.15"/><circle cx="268.65" cy="293.10" r="1.15"/><circle cx="275.53" cy="326.72" r="1.15"/><circle cx="282.41" cy="346.92" r="1.15"/><circle cx="289.29" cy="355.94" r="1.15"/><circle cx="296.16" cy="356.99" r="1.15"/><circle cx="303.04" cy="358.32" r="1.15"/><circle cx="309.92" cy="361.25" r="1.15"/><circle cx="316.80" cy="363.00" r="1.15"/></g>
</g>
<line x1="268.70" y1="364.10" x2="268.70" y2="293.10" stroke="#3a3a3a" stroke-width="1.4" stroke-dasharray="2.65 1.78"/>
<rect x="220.50" y="293.10" width="96.30" height="69.90" fill="none" stroke="#d2d2d2" stroke-width="1"/>
<path d="M234.26 363.00v-1M234.26 293.10v1M248.01 363.00v-1M248.01 293.10v1M261.77 363.00v-1M261.77 293.10v1M275.53 363.00v-1M275.53 293.10v1M289.29 363.00v-1M289.29 293.10v1M303.04 363.00v-1M303.04 293.10v1M220.50 349.02h1M316.80 349.02h-1M220.50 335.04h1M316.80 335.04h-1M220.50 321.06h1M316.80 321.06h-1M220.50 307.08h1M316.80 307.08h-1" stroke="#aaaaaa" stroke-width="0.8" fill="none"/>
<g font-size="8.1" fill="#2c2c2c" stroke="#2c2c2c" stroke-width="0.15"><text transform="translate(220.60 371.60) scale(0.86 1)" text-anchor="middle">0</text><text transform="translate(234.34 371.60) scale(0.86 1)" text-anchor="middle">2</text><text transform="translate(248.09 371.60) scale(0.86 1)" text-anchor="middle">4</text><text transform="translate(261.83 371.60) scale(0.86 1)" text-anchor="middle">6</text><text transform="translate(275.57 371.60) scale(0.86 1)" text-anchor="middle">8</text><text transform="translate(289.31 371.60) scale(0.86 1)" text-anchor="middle">10</text><text transform="translate(303.06 371.60) scale(0.86 1)" text-anchor="middle">12</text><text transform="translate(316.80 371.60) scale(0.86 1)" text-anchor="middle">14</text><text transform="translate(219.20 366.10) scale(0.86 1)" text-anchor="end">0</text><text transform="translate(219.20 352.12) scale(0.86 1)" text-anchor="end">0.2</text><text transform="translate(219.20 338.14) scale(0.86 1)" text-anchor="end">0.4</text><text transform="translate(219.20 324.16) scale(0.86 1)" text-anchor="end">0.6</text><text transform="translate(219.20 310.18) scale(0.86 1)" text-anchor="end">0.8</text><text transform="translate(219.20 296.20) scale(0.86 1)" text-anchor="end">1</text></g>
<text transform="translate(269.45 382.90) scale(1.0 1)" text-anchor="middle" font-size="9.5" fill="#222222" stroke="#222222" stroke-width="0.25">Image Sequence</text>
<text transform="translate(205.80,328.85) rotate(-90)" text-anchor="middle" font-size="9.45" fill="#222222" stroke="#222222" stroke-width="0.25">Normalized SEV</text>
<rect x="295.90" y="296.20" width="18.30" height="44.60" fill="#fff" stroke="#d2d2d2" stroke-width="0.9"/>
<line x1="297.10" y1="302.44" x2="304.10" y2="302.44" stroke="#c03ae4" stroke-width="0.7"/>
<circle cx="300.50" cy="302.44" r="1.15" fill="#c03ae4"/>
<text x="304.90" y="303.84" font-size="6.9" font-style="italic" fill="#3a3a3a" stroke="#3a3a3a" stroke-width="0.12">F<tspan font-size="4.7" dx="-0.1" dy="3.3">T</tspan></text>
<line x1="297.10" y1="313.30" x2="304.10" y2="313.30" stroke="#2fae6a" stroke-width="0.7"/>
<circle cx="300.50" cy="313.30" r="1.15" fill="#2fae6a"/>
<text x="304.90" y="314.70" font-size="6.9" font-style="italic" fill="#3a3a3a" stroke="#3a3a3a" stroke-width="0.12">F<tspan font-size="4.7" dx="-0.1" dy="3.3">L</tspan></text>
<line x1="297.10" y1="324.15" x2="304.10" y2="324.15" stroke="#ff9038" stroke-width="0.7"/>
<circle cx="300.50" cy="324.15" r="1.15" fill="#ff9038"/>
<text x="304.90" y="325.55" font-size="6.9" font-style="italic" fill="#3a3a3a" stroke="#3a3a3a" stroke-width="0.12">F<tspan font-size="4.7" dx="-0.1" dy="3.3">M</tspan></text>
<line x1="297.10" y1="335.00" x2="304.10" y2="335.00" stroke="#ff1a1a" stroke-width="0.7"/>
<circle cx="300.50" cy="335.00" r="1.15" fill="#ff1a1a"/>
<text x="304.90" y="336.40" font-size="6.9" font-style="italic" fill="#3a3a3a" stroke="#3a3a3a" stroke-width="0.12">F<tspan font-size="4.7" dx="-0.1" dy="3.3">A</tspan></text>
<path d="M367.96 294.80V363.10M381.41 294.80V363.10M394.87 294.80V363.10M408.33 294.80V363.10M421.79 294.80V363.10M435.24 294.80V363.10M354.50 349.44H448.70M354.50 335.78H448.70M354.50 322.12H448.70M354.50 308.46H448.70" stroke="#f3f3f3" stroke-width="0.8" fill="none"/>
<g>
<polyline points="354.50,362.83 361.23,360.91 367.96,357.84 374.69,351.63 381.41,347.12 388.14,327.86 394.87,306.00 401.60,295.48 408.33,314.20 415.06,328.75 421.79,344.73 428.51,354.02 435.24,357.84 441.97,361.53 448.70,362.83" fill="none" stroke="#c03ae4" stroke-width="0.72" stroke-linejoin="round"/>
<g fill="#c03ae4"><circle cx="354.50" cy="362.83" r="1.15"/><circle cx="361.23" cy="360.91" r="1.15"/><circle cx="367.96" cy="357.84" r="1.15"/><circle cx="374.69" cy="351.63" r="1.15"/><circle cx="381.41" cy="347.12" r="1.15"/><circle cx="388.14" cy="327.86" r="1.15"/><circle cx="394.87" cy="306.00" r="1.15"/><circle cx="401.60" cy="295.48" r="1.15"/><circle cx="408.33" cy="314.20" r="1.15"/><circle cx="415.06" cy="328.75" r="1.15"/><circle cx="421.79" cy="344.73" r="1.15"/><circle cx="428.51" cy="354.02" r="1.15"/><circle cx="435.24" cy="357.84" r="1.15"/><circle cx="441.97" cy="361.53" r="1.15"/><circle cx="448.70" cy="362.83" r="1.15"/></g>
<polyline points="354.50,362.83 361.23,360.91 367.96,358.32 374.69,355.31 381.41,348.42 388.14,339.06 394.87,310.51 401.60,295.48 408.33,321.37 415.06,329.77 421.79,350.33 428.51,354.90 435.24,361.53 441.97,361.87 448.70,363.10" fill="none" stroke="#2fae6a" stroke-width="0.72" stroke-linejoin="round"/>
<g fill="#2fae6a"><circle cx="354.50" cy="362.83" r="1.15"/><circle cx="361.23" cy="360.91" r="1.15"/><circle cx="367.96" cy="358.32" r="1.15"/><circle cx="374.69" cy="355.31" r="1.15"/><circle cx="381.41" cy="348.42" r="1.15"/><circle cx="388.14" cy="339.06" r="1.15"/><circle cx="394.87" cy="310.51" r="1.15"/><circle cx="401.60" cy="295.48" r="1.15"/><circle cx="408.33" cy="321.37" r="1.15"/><circle cx="415.06" cy="329.77" r="1.15"/><circle cx="421.79" cy="350.33" r="1.15"/><circle cx="428.51" cy="354.90" r="1.15"/><circle cx="435.24" cy="361.53" r="1.15"/><circle cx="441.97" cy="361.87" r="1.15"/><circle cx="448.70" cy="363.10" r="1.15"/></g>
<polyline points="354.50,363.10 361.23,361.73 367.96,361.05 374.69,362.76 381.41,352.72 388.14,346.50 394.87,320.34 401.60,295.48 408.33,320.34 415.06,347.53 421.79,351.63 428.51,355.93 435.24,360.64 441.97,361.87 448.70,363.10" fill="none" stroke="#ff9038" stroke-width="0.72" stroke-linejoin="round"/>
<g fill="#ff9038"><circle cx="354.50" cy="363.10" r="1.15"/><circle cx="361.23" cy="361.73" r="1.15"/><circle cx="367.96" cy="361.05" r="1.15"/><circle cx="374.69" cy="362.76" r="1.15"/><circle cx="381.41" cy="352.72" r="1.15"/><circle cx="388.14" cy="346.50" r="1.15"/><circle cx="394.87" cy="320.34" r="1.15"/><circle cx="401.60" cy="295.48" r="1.15"/><circle cx="408.33" cy="320.34" r="1.15"/><circle cx="415.06" cy="347.53" r="1.15"/><circle cx="421.79" cy="351.63" r="1.15"/><circle cx="428.51" cy="355.93" r="1.15"/><circle cx="435.24" cy="360.64" r="1.15"/><circle cx="441.97" cy="361.87" r="1.15"/><circle cx="448.70" cy="363.10" r="1.15"/></g>
<polyline points="354.50,363.10 361.23,362.83 367.96,361.73 374.69,361.39 381.41,356.41 388.14,350.33 394.87,327.38 401.60,295.48 408.33,327.24 415.06,350.33 421.79,356.41 428.51,357.23 435.24,361.53 441.97,362.42 448.70,363.10" fill="none" stroke="#ff1a1a" stroke-width="0.72" stroke-linejoin="round"/>
<g fill="#ff1a1a"><circle cx="354.50" cy="363.10" r="1.15"/><circle cx="361.23" cy="362.83" r="1.15"/><circle cx="367.96" cy="361.73" r="1.15"/><circle cx="374.69" cy="361.39" r="1.15"/><circle cx="381.41" cy="356.41" r="1.15"/><circle cx="388.14" cy="350.33" r="1.15"/><circle cx="394.87" cy="327.38" r="1.15"/><circle cx="401.60" cy="295.48" r="1.15"/><circle cx="408.33" cy="327.24" r="1.15"/><circle cx="415.06" cy="350.33" r="1.15"/><circle cx="421.79" cy="356.41" r="1.15"/><circle cx="428.51" cy="357.23" r="1.15"/><circle cx="435.24" cy="361.53" r="1.15"/><circle cx="441.97" cy="362.42" r="1.15"/><circle cx="448.70" cy="363.10" r="1.15"/></g>
</g>
<line x1="401.65" y1="363.30" x2="401.65" y2="294.80" stroke="#3a3a3a" stroke-width="1.4" stroke-dasharray="1.9 1.25"/>
<rect x="354.50" y="294.80" width="94.20" height="68.30" fill="none" stroke="#d2d2d2" stroke-width="1"/>
<path d="M367.96 363.10v-1M367.96 294.80v1M381.41 363.10v-1M381.41 294.80v1M394.87 363.10v-1M394.87 294.80v1M408.33 363.10v-1M408.33 294.80v1M421.79 363.10v-1M421.79 294.80v1M435.24 363.10v-1M435.24 294.80v1M354.50 349.44h1M448.70 349.44h-1M354.50 335.78h1M448.70 335.78h-1M354.50 322.12h1M448.70 322.12h-1M354.50 308.46h1M448.70 308.46h-1" stroke="#aaaaaa" stroke-width="0.8" fill="none"/>
<g font-size="8.1" fill="#2c2c2c" stroke="#2c2c2c" stroke-width="0.15"><text transform="translate(354.30 371.70) scale(0.86 1)" text-anchor="middle">0</text><text transform="translate(367.79 371.70) scale(0.86 1)" text-anchor="middle">2</text><text transform="translate(381.27 371.70) scale(0.86 1)" text-anchor="middle">4</text><text transform="translate(394.76 371.70) scale(0.86 1)" text-anchor="middle">6</text><text transform="translate(408.24 371.70) scale(0.86 1)" text-anchor="middle">8</text><text transform="translate(421.73 371.70) scale(0.86 1)" text-anchor="middle">10</text><text transform="translate(435.21 371.70) scale(0.86 1)" text-anchor="middle">12</text><text transform="translate(448.70 371.70) scale(0.86 1)" text-anchor="middle">14</text><text transform="translate(353.20 366.20) scale(0.86 1)" text-anchor="end">0</text><text transform="translate(353.20 352.54) scale(0.86 1)" text-anchor="end">0.2</text><text transform="translate(353.20 338.88) scale(0.86 1)" text-anchor="end">0.4</text><text transform="translate(353.20 325.22) scale(0.86 1)" text-anchor="end">0.6</text><text transform="translate(353.20 311.56) scale(0.86 1)" text-anchor="end">0.8</text><text transform="translate(353.20 297.90) scale(0.86 1)" text-anchor="end">1</text></g>
<text transform="translate(402.40 383.00) scale(1.0 1)" text-anchor="middle" font-size="9.5" fill="#222222" stroke="#222222" stroke-width="0.25">Image Sequence</text>
<text transform="translate(339.40,330.85) rotate(-90)" text-anchor="middle" font-size="9.45" fill="#222222" stroke="#222222" stroke-width="0.25">Normalized SEV</text>
<rect x="428.30" y="296.20" width="17.90" height="44.40" fill="#fff" stroke="#d2d2d2" stroke-width="0.9"/>
<line x1="429.50" y1="302.42" x2="436.50" y2="302.42" stroke="#c03ae4" stroke-width="0.7"/>
<circle cx="432.90" cy="302.42" r="1.15" fill="#c03ae4"/>
<text x="437.30" y="303.82" font-size="6.9" font-style="italic" fill="#3a3a3a" stroke="#3a3a3a" stroke-width="0.12">F<tspan font-size="4.7" dx="-0.1" dy="3.3">T</tspan></text>
<line x1="429.50" y1="313.22" x2="436.50" y2="313.22" stroke="#2fae6a" stroke-width="0.7"/>
<circle cx="432.90" cy="313.22" r="1.15" fill="#2fae6a"/>
<text x="437.30" y="314.62" font-size="6.9" font-style="italic" fill="#3a3a3a" stroke="#3a3a3a" stroke-width="0.12">F<tspan font-size="4.7" dx="-0.1" dy="3.3">L</tspan></text>
<line x1="429.50" y1="324.02" x2="436.50" y2="324.02" stroke="#ff9038" stroke-width="0.7"/>
<circle cx="432.90" cy="324.02" r="1.15" fill="#ff9038"/>
<text x="437.30" y="325.42" font-size="6.9" font-style="italic" fill="#3a3a3a" stroke="#3a3a3a" stroke-width="0.12">F<tspan font-size="4.7" dx="-0.1" dy="3.3">M</tspan></text>
<line x1="429.50" y1="334.82" x2="436.50" y2="334.82" stroke="#ff1a1a" stroke-width="0.7"/>
<circle cx="432.90" cy="334.82" r="1.15" fill="#ff1a1a"/>
<text x="437.30" y="336.22" font-size="6.9" font-style="italic" fill="#3a3a3a" stroke="#3a3a3a" stroke-width="0.12">F<tspan font-size="4.7" dx="-0.1" dy="3.3">A</tspan></text>
<text x="32.5" y="42.2" text-anchor="middle" font-size="13" fill="#111" stroke="#111" stroke-width="0.3">Full</text>
<text x="32.5" y="60.6" text-anchor="middle" font-size="13" fill="#111" stroke="#111" stroke-width="0.3">Window:</text>
<text x="32.5" y="135.1" text-anchor="middle" font-size="13" fill="#111" stroke="#111" stroke-width="0.3">Inverted T</text>
<text x="32.5" y="153.9" text-anchor="middle" font-size="13" fill="#111" stroke="#111" stroke-width="0.3">Window:</text>
<text x="32.5" y="228.6" text-anchor="middle" font-size="13" fill="#111" stroke="#111" stroke-width="0.3">Adaptive</text>
<text x="32.5" y="247.0" text-anchor="middle" font-size="13" fill="#111" stroke="#111" stroke-width="0.3">Window:</text>
<text x="32.5" y="321.6" text-anchor="middle" font-size="13" fill="#111" stroke="#111" stroke-width="0.3">Manual</text>
<text x="32.5" y="340.1" text-anchor="middle" font-size="13" fill="#111" stroke="#111" stroke-width="0.3">Window:</text>
<text x="140.4" y="398.6" text-anchor="middle" font-size="13.3" fill="#111" stroke="#111" stroke-width="0.1" style="font-family:'Liberation Serif',serif">(a)</text>
<text x="268.9" y="398.6" text-anchor="middle" font-size="13.3" fill="#111" stroke="#111" stroke-width="0.1" style="font-family:'Liberation Serif',serif">(b)</text>
<text x="403.2" y="398.6" text-anchor="middle" font-size="13.3" fill="#111" stroke="#111" stroke-width="0.1" style="font-family:'Liberation Serif',serif">(c)</text>
<path d="M467 40.3 Q471.9 40.8 471.9 45.5 V130.6 Q471.9 135.1 479.4 135.4 Q471.9 135.7 471.9 140 V225.3 Q471.9 229.6 467 230" fill="none" stroke="#666" stroke-width="1.05"/>
<text x="513.6" y="133.3" text-anchor="middle" font-size="13" fill="#111" stroke="#111" stroke-width="0.3">Automatic</text>
<text x="513.8" y="147.3" text-anchor="middle" font-size="13" fill="#111" stroke="#111" stroke-width="0.3">Windows</text>
</g>
</svg></body></html>
